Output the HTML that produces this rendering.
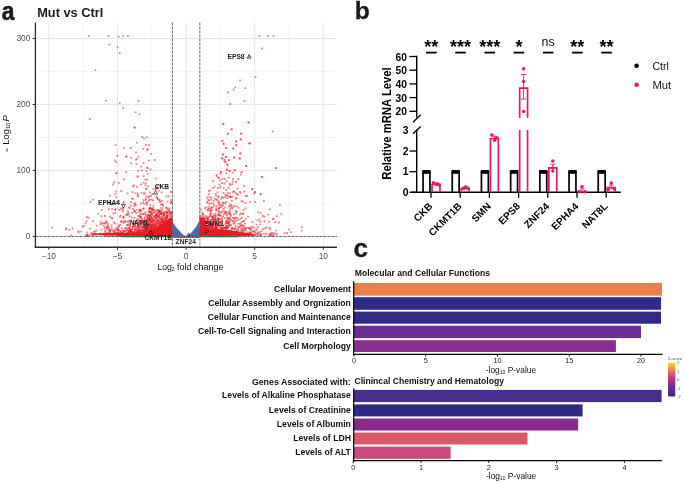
<!DOCTYPE html>
<html><head><meta charset="utf-8"><style>
html,body{margin:0;padding:0;background:#fff;}
svg{display:block;will-change:transform;}
text{font-family:"Liberation Sans",sans-serif;}
</style></head><body>
<svg width="685" height="483" viewBox="0 0 685 483" font-family="Liberation Sans, sans-serif">
<rect width="685" height="483" fill="#fff"/>
<line x1="83.20" y1="22.5" x2="83.20" y2="247.0" stroke="#ededed" stroke-width="0.6"/><line x1="151.80" y1="22.5" x2="151.80" y2="247.0" stroke="#ededed" stroke-width="0.6"/><line x1="220.40" y1="22.5" x2="220.40" y2="247.0" stroke="#ededed" stroke-width="0.6"/><line x1="289.00" y1="22.5" x2="289.00" y2="247.0" stroke="#ededed" stroke-width="0.6"/><line x1="35.4" y1="203.42" x2="337.0" y2="203.42" stroke="#ededed" stroke-width="0.6"/><line x1="35.4" y1="137.44" x2="337.0" y2="137.44" stroke="#ededed" stroke-width="0.6"/><line x1="35.4" y1="71.48" x2="337.0" y2="71.48" stroke="#ededed" stroke-width="0.6"/><line x1="48.90" y1="22.5" x2="48.90" y2="247.0" stroke="#e6e6e6" stroke-width="1"/><line x1="117.50" y1="22.5" x2="117.50" y2="247.0" stroke="#e6e6e6" stroke-width="1"/><line x1="186.10" y1="22.5" x2="186.10" y2="247.0" stroke="#e6e6e6" stroke-width="1"/><line x1="254.70" y1="22.5" x2="254.70" y2="247.0" stroke="#e6e6e6" stroke-width="1"/><line x1="323.30" y1="22.5" x2="323.30" y2="247.0" stroke="#e6e6e6" stroke-width="1"/><line x1="35.4" y1="236.40" x2="337.0" y2="236.40" stroke="#e6e6e6" stroke-width="1"/><line x1="35.4" y1="170.43" x2="337.0" y2="170.43" stroke="#e6e6e6" stroke-width="1"/><line x1="35.4" y1="104.46" x2="337.0" y2="104.46" stroke="#e6e6e6" stroke-width="1"/><line x1="35.4" y1="38.49" x2="337.0" y2="38.49" stroke="#e6e6e6" stroke-width="1"/><polygon points="91,233.2 100,233.2 110,233.1 120,232.9 130,232.5 140,231.8 148,230.5 155,228.5 160,225.5 165,221.5 169,219 172.4,218 172.4,235.8 120,235.4 100,235.0 91,234.6" fill="#ea1c24"/><polygon points="199.7,217.6 204.5,217.9 205.5,225.5 208,229 220,229.6 232,230.5 242,232 250,233.4 256,234.6 256,235.8 199.7,235.8" fill="#ea1c24"/><path d="M88.0 35.0h1.8v1.8h-1.8zM94.4 68.9h1.8v1.8h-1.8zM133.6 126.5h1.8v1.8h-1.8zM148.1 144.2h1.8v1.8h-1.8zM116.5 155.1h1.8v1.8h-1.8zM115.2 161.3h1.8v1.8h-1.8zM146.7 167.3h1.8v1.8h-1.8zM136.4 175.6h1.8v1.8h-1.8zM113.1 181.4h1.8v1.8h-1.8zM108.0 208.2h1.8v1.8h-1.8zM84.5 222.7h1.8v1.8h-1.8zM115.3 227.1h1.8v1.8h-1.8zM103.7 227.8h1.8v1.8h-1.8zM234.3 86.5h1.8v1.8h-1.8zM230.8 128.4h1.8v1.8h-1.8zM222.6 143.0h1.8v1.8h-1.8zM233.3 156.4h1.8v1.8h-1.8zM225.9 168.5h1.8v1.8h-1.8zM254.0 191.4h1.8v1.8h-1.8zM275.8 215.2h1.8v1.8h-1.8zM300.8 229.8h1.8v1.8h-1.8zM217.1 187.1h1.8v1.8h-1.8zM240.5 132.8h1.8v1.8h-1.8zM225.2 146.9h1.8v1.8h-1.8zM223.6 158.8h1.8v1.8h-1.8zM228.6 170.1h1.8v1.8h-1.8zM217.8 176.7h1.8v1.8h-1.8zM225.6 180.4h1.8v1.8h-1.8zM219.5 186.2h1.8v1.8h-1.8zM216.6 191.5h1.8v1.8h-1.8zM221.1 196.1h1.8v1.8h-1.8zM71.7 227.6h1.8v1.8h-1.8zM86.8 234.6h1.8v1.8h-1.8zM93.4 233.9h1.8v1.8h-1.8zM99.4 232.4h1.8v1.8h-1.8zM103.8 222.6h1.8v1.8h-1.8zM104.7 235.1h1.8v1.8h-1.8zM106.1 226.2h1.8v1.8h-1.8zM108.8 200.2h1.8v1.8h-1.8zM109.3 203.0h1.8v1.8h-1.8zM110.9 228.8h1.8v1.8h-1.8zM112.4 234.2h1.8v1.8h-1.8zM114.2 230.7h1.8v1.8h-1.8zM116.3 231.9h1.8v1.8h-1.8zM117.8 231.9h1.8v1.8h-1.8zM118.6 224.4h1.8v1.8h-1.8zM119.4 223.7h1.8v1.8h-1.8zM120.0 235.1h1.8v1.8h-1.8zM122.1 210.2h1.8v1.8h-1.8zM121.2 234.0h1.8v1.8h-1.8zM122.6 232.1h1.8v1.8h-1.8zM124.5 220.1h1.8v1.8h-1.8zM124.9 234.2h1.8v1.8h-1.8zM125.5 234.6h1.8v1.8h-1.8zM126.8 229.4h1.8v1.8h-1.8zM127.8 206.5h1.8v1.8h-1.8zM127.4 231.3h1.8v1.8h-1.8zM128.5 219.8h1.8v1.8h-1.8zM128.2 232.4h1.8v1.8h-1.8zM129.2 230.8h1.8v1.8h-1.8zM131.0 216.5h1.8v1.8h-1.8zM130.8 234.6h1.8v1.8h-1.8zM131.9 228.1h1.8v1.8h-1.8zM132.1 208.0h1.8v1.8h-1.8zM132.7 234.7h1.8v1.8h-1.8zM133.4 224.4h1.8v1.8h-1.8zM133.1 234.3h1.8v1.8h-1.8zM134.3 224.8h1.8v1.8h-1.8zM134.4 234.4h1.8v1.8h-1.8zM135.2 234.7h1.8v1.8h-1.8zM137.0 223.8h1.8v1.8h-1.8zM136.3 230.9h1.8v1.8h-1.8zM136.8 234.7h1.8v1.8h-1.8zM137.8 225.0h1.8v1.8h-1.8zM137.2 234.6h1.8v1.8h-1.8zM138.2 226.5h1.8v1.8h-1.8zM138.4 231.7h1.8v1.8h-1.8zM138.1 234.5h1.8v1.8h-1.8zM139.7 217.6h1.8v1.8h-1.8zM139.9 231.2h1.8v1.8h-1.8zM140.7 191.8h1.8v1.8h-1.8zM140.7 222.7h1.8v1.8h-1.8zM140.1 232.4h1.8v1.8h-1.8zM141.2 221.2h1.8v1.8h-1.8zM141.9 231.6h1.8v1.8h-1.8zM141.1 233.3h1.8v1.8h-1.8zM142.9 207.8h1.8v1.8h-1.8zM142.2 226.5h1.8v1.8h-1.8zM142.2 231.6h1.8v1.8h-1.8zM143.2 192.8h1.8v1.8h-1.8zM143.2 221.3h1.8v1.8h-1.8zM143.5 230.4h1.8v1.8h-1.8zM144.8 182.3h1.8v1.8h-1.8zM144.4 227.3h1.8v1.8h-1.8zM144.3 232.7h1.8v1.8h-1.8zM145.6 201.2h1.8v1.8h-1.8zM145.3 223.0h1.8v1.8h-1.8zM145.3 229.0h1.8v1.8h-1.8zM145.4 233.3h1.8v1.8h-1.8zM147.0 220.1h1.8v1.8h-1.8zM146.8 227.8h1.8v1.8h-1.8zM146.3 233.0h1.8v1.8h-1.8zM146.9 234.5h1.8v1.8h-1.8zM148.1 217.2h1.8v1.8h-1.8zM147.2 226.9h1.8v1.8h-1.8zM147.7 231.3h1.8v1.8h-1.8zM148.2 210.0h1.8v1.8h-1.8zM148.8 218.4h1.8v1.8h-1.8zM148.1 224.2h1.8v1.8h-1.8zM148.6 228.4h1.8v1.8h-1.8zM148.3 232.2h1.8v1.8h-1.8zM149.9 207.7h1.8v1.8h-1.8zM149.6 218.2h1.8v1.8h-1.8zM150.0 226.9h1.8v1.8h-1.8zM149.3 230.7h1.8v1.8h-1.8zM149.6 234.5h1.8v1.8h-1.8zM150.6 216.5h1.8v1.8h-1.8zM150.6 224.3h1.8v1.8h-1.8zM150.3 230.1h1.8v1.8h-1.8zM151.5 208.6h1.8v1.8h-1.8zM151.9 219.0h1.8v1.8h-1.8zM151.3 228.7h1.8v1.8h-1.8zM151.4 232.0h1.8v1.8h-1.8zM152.6 187.9h1.8v1.8h-1.8zM152.1 223.8h1.8v1.8h-1.8zM153.0 227.3h1.8v1.8h-1.8zM153.0 229.2h1.8v1.8h-1.8zM152.2 231.2h1.8v1.8h-1.8zM153.1 215.8h1.8v1.8h-1.8zM153.8 227.1h1.8v1.8h-1.8zM154.0 230.0h1.8v1.8h-1.8zM154.8 210.2h1.8v1.8h-1.8zM154.3 218.8h1.8v1.8h-1.8zM154.5 230.9h1.8v1.8h-1.8zM156.1 186.1h1.8v1.8h-1.8zM155.4 219.8h1.8v1.8h-1.8zM155.4 229.8h1.8v1.8h-1.8zM156.1 232.2h1.8v1.8h-1.8zM156.3 208.9h1.8v1.8h-1.8zM156.6 217.4h1.8v1.8h-1.8zM156.7 228.0h1.8v1.8h-1.8zM157.0 232.2h1.8v1.8h-1.8zM158.0 214.9h1.8v1.8h-1.8zM157.7 226.0h1.8v1.8h-1.8zM157.9 228.3h1.8v1.8h-1.8zM157.6 232.1h1.8v1.8h-1.8zM159.0 209.5h1.8v1.8h-1.8zM158.4 217.0h1.8v1.8h-1.8zM158.8 224.3h1.8v1.8h-1.8zM158.3 231.0h1.8v1.8h-1.8zM159.2 183.9h1.8v1.8h-1.8zM159.3 218.2h1.8v1.8h-1.8zM159.8 223.6h1.8v1.8h-1.8zM159.5 227.5h1.8v1.8h-1.8zM159.3 230.5h1.8v1.8h-1.8zM160.6 191.4h1.8v1.8h-1.8zM161.0 219.6h1.8v1.8h-1.8zM161.0 226.6h1.8v1.8h-1.8zM160.4 233.8h1.8v1.8h-1.8zM162.0 217.9h1.8v1.8h-1.8zM162.1 222.9h1.8v1.8h-1.8zM162.0 228.7h1.8v1.8h-1.8zM161.8 235.1h1.8v1.8h-1.8zM162.3 218.0h1.8v1.8h-1.8zM162.3 222.9h1.8v1.8h-1.8zM162.2 229.2h1.8v1.8h-1.8zM162.7 232.2h1.8v1.8h-1.8zM163.2 216.6h1.8v1.8h-1.8zM163.5 224.3h1.8v1.8h-1.8zM164.0 226.2h1.8v1.8h-1.8zM163.7 230.5h1.8v1.8h-1.8zM163.4 233.0h1.8v1.8h-1.8zM165.0 217.1h1.8v1.8h-1.8zM165.1 222.8h1.8v1.8h-1.8zM164.5 226.3h1.8v1.8h-1.8zM164.9 231.9h1.8v1.8h-1.8zM165.3 206.5h1.8v1.8h-1.8zM165.9 214.5h1.8v1.8h-1.8zM165.6 221.9h1.8v1.8h-1.8zM165.3 225.8h1.8v1.8h-1.8zM165.3 231.9h1.8v1.8h-1.8zM166.6 200.8h1.8v1.8h-1.8zM166.8 217.2h1.8v1.8h-1.8zM166.6 224.7h1.8v1.8h-1.8zM166.5 227.3h1.8v1.8h-1.8zM167.1 230.4h1.8v1.8h-1.8zM167.2 221.5h1.8v1.8h-1.8zM168.1 227.1h1.8v1.8h-1.8zM167.2 231.0h1.8v1.8h-1.8zM167.3 233.4h1.8v1.8h-1.8zM168.2 209.5h1.8v1.8h-1.8zM168.5 221.6h1.8v1.8h-1.8zM168.5 226.7h1.8v1.8h-1.8zM168.8 228.2h1.8v1.8h-1.8zM168.2 232.8h1.8v1.8h-1.8zM169.5 212.0h1.8v1.8h-1.8zM170.0 218.2h1.8v1.8h-1.8zM169.5 223.4h1.8v1.8h-1.8zM169.5 228.9h1.8v1.8h-1.8zM169.8 233.3h1.8v1.8h-1.8zM171.1 212.3h1.8v1.8h-1.8zM170.4 220.6h1.8v1.8h-1.8zM170.3 223.8h1.8v1.8h-1.8zM170.4 228.9h1.8v1.8h-1.8zM170.5 234.4h1.8v1.8h-1.8zM199.8 227.0h1.8v1.8h-1.8zM199.2 230.7h1.8v1.8h-1.8zM199.5 233.8h1.8v1.8h-1.8zM200.5 220.7h1.8v1.8h-1.8zM200.7 224.0h1.8v1.8h-1.8zM200.4 227.4h1.8v1.8h-1.8zM199.9 230.4h1.8v1.8h-1.8zM200.4 234.0h1.8v1.8h-1.8zM201.5 218.6h1.8v1.8h-1.8zM201.4 223.9h1.8v1.8h-1.8zM201.7 232.6h1.8v1.8h-1.8zM201.3 234.7h1.8v1.8h-1.8zM202.6 223.4h1.8v1.8h-1.8zM201.9 229.9h1.8v1.8h-1.8zM202.6 234.0h1.8v1.8h-1.8zM202.9 226.9h1.8v1.8h-1.8zM203.2 230.5h1.8v1.8h-1.8zM203.5 233.7h1.8v1.8h-1.8zM204.0 219.4h1.8v1.8h-1.8zM204.7 224.8h1.8v1.8h-1.8zM204.6 231.4h1.8v1.8h-1.8zM204.9 218.9h1.8v1.8h-1.8zM205.2 228.2h1.8v1.8h-1.8zM205.1 233.8h1.8v1.8h-1.8zM206.4 217.6h1.8v1.8h-1.8zM206.2 226.9h1.8v1.8h-1.8zM206.6 230.9h1.8v1.8h-1.8zM205.9 234.4h1.8v1.8h-1.8zM207.0 219.5h1.8v1.8h-1.8zM206.9 227.0h1.8v1.8h-1.8zM208.4 196.2h1.8v1.8h-1.8zM208.2 223.1h1.8v1.8h-1.8zM207.9 228.4h1.8v1.8h-1.8zM209.0 189.8h1.8v1.8h-1.8zM209.0 223.0h1.8v1.8h-1.8zM208.8 227.4h1.8v1.8h-1.8zM209.2 232.8h1.8v1.8h-1.8zM209.9 209.4h1.8v1.8h-1.8zM210.1 224.9h1.8v1.8h-1.8zM210.4 234.6h1.8v1.8h-1.8zM211.0 223.2h1.8v1.8h-1.8zM211.3 228.4h1.8v1.8h-1.8zM211.3 233.7h1.8v1.8h-1.8zM212.5 217.0h1.8v1.8h-1.8zM212.6 227.7h1.8v1.8h-1.8zM212.8 233.5h1.8v1.8h-1.8zM212.9 223.1h1.8v1.8h-1.8zM213.0 233.9h1.8v1.8h-1.8zM214.5 219.2h1.8v1.8h-1.8zM214.1 229.8h1.8v1.8h-1.8zM214.4 233.5h1.8v1.8h-1.8zM215.2 198.5h1.8v1.8h-1.8zM215.7 222.8h1.8v1.8h-1.8zM215.3 226.9h1.8v1.8h-1.8zM215.3 231.6h1.8v1.8h-1.8zM216.7 218.7h1.8v1.8h-1.8zM216.0 231.3h1.8v1.8h-1.8zM217.2 196.8h1.8v1.8h-1.8zM216.9 218.4h1.8v1.8h-1.8zM217.2 229.1h1.8v1.8h-1.8zM218.2 207.5h1.8v1.8h-1.8zM218.6 221.2h1.8v1.8h-1.8zM218.1 233.1h1.8v1.8h-1.8zM219.4 218.3h1.8v1.8h-1.8zM219.7 230.7h1.8v1.8h-1.8zM220.4 206.1h1.8v1.8h-1.8zM220.8 229.3h1.8v1.8h-1.8zM220.9 215.2h1.8v1.8h-1.8zM220.9 228.8h1.8v1.8h-1.8zM222.2 215.8h1.8v1.8h-1.8zM221.9 235.0h1.8v1.8h-1.8zM223.6 230.9h1.8v1.8h-1.8zM224.4 211.3h1.8v1.8h-1.8zM224.4 234.6h1.8v1.8h-1.8zM225.4 225.1h1.8v1.8h-1.8zM224.8 229.8h1.8v1.8h-1.8zM226.4 197.3h1.8v1.8h-1.8zM226.0 225.9h1.8v1.8h-1.8zM225.8 234.8h1.8v1.8h-1.8zM227.5 222.9h1.8v1.8h-1.8zM227.3 232.2h1.8v1.8h-1.8zM228.1 230.3h1.8v1.8h-1.8zM229.2 207.4h1.8v1.8h-1.8zM229.3 230.2h1.8v1.8h-1.8zM230.7 204.4h1.8v1.8h-1.8zM229.8 231.4h1.8v1.8h-1.8zM231.0 227.7h1.8v1.8h-1.8zM232.6 230.7h1.8v1.8h-1.8zM233.7 217.6h1.8v1.8h-1.8zM234.8 225.1h1.8v1.8h-1.8zM235.3 211.3h1.8v1.8h-1.8zM236.3 192.7h1.8v1.8h-1.8zM236.2 234.3h1.8v1.8h-1.8zM236.9 232.2h1.8v1.8h-1.8zM237.9 234.0h1.8v1.8h-1.8zM239.6 232.9h1.8v1.8h-1.8zM240.4 233.3h1.8v1.8h-1.8zM241.0 234.4h1.8v1.8h-1.8zM241.9 228.0h1.8v1.8h-1.8zM243.8 234.1h1.8v1.8h-1.8zM244.9 218.0h1.8v1.8h-1.8zM247.7 227.1h1.8v1.8h-1.8zM249.2 227.4h1.8v1.8h-1.8zM251.1 230.7h1.8v1.8h-1.8zM255.8 223.8h1.8v1.8h-1.8zM256.8 231.8h1.8v1.8h-1.8zM259.1 234.6h1.8v1.8h-1.8zM265.7 226.6h1.8v1.8h-1.8zM270.3 232.2h1.8v1.8h-1.8zM275.4 229.7h1.8v1.8h-1.8z" fill="#ea1c24" fill-opacity="0.55"/><path d="M107.6 35.0h1.8v1.8h-1.8zM105.1 99.7h1.8v1.8h-1.8zM133.9 126.8h1.8v1.8h-1.8zM123.0 147.3h1.8v1.8h-1.8zM125.2 155.9h1.8v1.8h-1.8zM148.2 159.7h1.8v1.8h-1.8zM149.4 168.5h1.8v1.8h-1.8zM137.2 175.7h1.8v1.8h-1.8zM111.9 183.6h1.8v1.8h-1.8zM114.8 208.2h1.8v1.8h-1.8zM81.9 225.6h1.8v1.8h-1.8zM51.2 226.8h1.8v1.8h-1.8zM108.0 228.5h1.8v1.8h-1.8zM232.6 88.7h1.8v1.8h-1.8zM271.7 130.5h1.8v1.8h-1.8zM235.1 144.2h1.8v1.8h-1.8zM238.8 157.4h1.8v1.8h-1.8zM228.8 170.0h1.8v1.8h-1.8zM259.8 193.5h1.8v1.8h-1.8zM272.3 218.1h1.8v1.8h-1.8zM215.6 174.1h1.8v1.8h-1.8zM225.1 189.1h1.8v1.8h-1.8zM271.9 130.4h1.8v1.8h-1.8zM232.2 147.7h1.8v1.8h-1.8zM228.2 159.3h1.8v1.8h-1.8zM220.3 171.3h1.8v1.8h-1.8zM221.6 177.9h1.8v1.8h-1.8zM231.9 180.7h1.8v1.8h-1.8zM222.8 187.3h1.8v1.8h-1.8zM222.8 191.9h1.8v1.8h-1.8zM227.7 195.3h1.8v1.8h-1.8zM77.6 231.5h1.8v1.8h-1.8zM88.8 234.5h1.8v1.8h-1.8zM94.4 232.6h1.8v1.8h-1.8zM100.8 208.9h1.8v1.8h-1.8zM103.2 232.9h1.8v1.8h-1.8zM105.3 220.8h1.8v1.8h-1.8zM106.4 226.9h1.8v1.8h-1.8zM108.8 202.5h1.8v1.8h-1.8zM109.4 229.4h1.8v1.8h-1.8zM110.9 234.9h1.8v1.8h-1.8zM113.1 221.6h1.8v1.8h-1.8zM114.4 232.0h1.8v1.8h-1.8zM116.6 232.6h1.8v1.8h-1.8zM117.8 233.0h1.8v1.8h-1.8zM118.3 229.3h1.8v1.8h-1.8zM119.8 230.2h1.8v1.8h-1.8zM120.2 221.2h1.8v1.8h-1.8zM121.9 220.7h1.8v1.8h-1.8zM123.0 200.9h1.8v1.8h-1.8zM122.2 233.3h1.8v1.8h-1.8zM124.6 220.6h1.8v1.8h-1.8zM124.4 234.8h1.8v1.8h-1.8zM126.7 192.5h1.8v1.8h-1.8zM126.5 229.3h1.8v1.8h-1.8zM128.0 212.6h1.8v1.8h-1.8zM127.4 233.0h1.8v1.8h-1.8zM128.9 222.8h1.8v1.8h-1.8zM130.1 201.1h1.8v1.8h-1.8zM129.2 231.0h1.8v1.8h-1.8zM130.2 219.7h1.8v1.8h-1.8zM132.0 185.4h1.8v1.8h-1.8zM131.1 231.0h1.8v1.8h-1.8zM132.9 209.7h1.8v1.8h-1.8zM132.2 234.9h1.8v1.8h-1.8zM134.0 225.1h1.8v1.8h-1.8zM133.7 234.9h1.8v1.8h-1.8zM134.7 225.7h1.8v1.8h-1.8zM136.0 186.0h1.8v1.8h-1.8zM135.7 234.7h1.8v1.8h-1.8zM136.9 224.6h1.8v1.8h-1.8zM136.3 231.8h1.8v1.8h-1.8zM136.6 235.0h1.8v1.8h-1.8zM137.7 229.5h1.8v1.8h-1.8zM138.0 235.0h1.8v1.8h-1.8zM138.4 227.1h1.8v1.8h-1.8zM138.8 231.5h1.8v1.8h-1.8zM138.7 234.4h1.8v1.8h-1.8zM139.4 221.6h1.8v1.8h-1.8zM139.2 232.8h1.8v1.8h-1.8zM140.6 210.5h1.8v1.8h-1.8zM140.9 223.0h1.8v1.8h-1.8zM140.9 232.7h1.8v1.8h-1.8zM141.1 225.2h1.8v1.8h-1.8zM141.7 233.2h1.8v1.8h-1.8zM141.9 234.5h1.8v1.8h-1.8zM142.2 207.7h1.8v1.8h-1.8zM142.7 226.1h1.8v1.8h-1.8zM143.0 231.9h1.8v1.8h-1.8zM143.3 203.0h1.8v1.8h-1.8zM143.5 221.5h1.8v1.8h-1.8zM143.3 232.9h1.8v1.8h-1.8zM144.6 184.2h1.8v1.8h-1.8zM144.4 228.4h1.8v1.8h-1.8zM144.7 232.5h1.8v1.8h-1.8zM145.6 202.4h1.8v1.8h-1.8zM146.1 222.9h1.8v1.8h-1.8zM145.3 231.0h1.8v1.8h-1.8zM146.4 201.8h1.8v1.8h-1.8zM146.3 221.5h1.8v1.8h-1.8zM146.6 228.3h1.8v1.8h-1.8zM146.5 232.6h1.8v1.8h-1.8zM147.4 185.3h1.8v1.8h-1.8zM147.9 217.4h1.8v1.8h-1.8zM147.3 227.9h1.8v1.8h-1.8zM147.7 232.5h1.8v1.8h-1.8zM148.8 211.0h1.8v1.8h-1.8zM148.4 219.3h1.8v1.8h-1.8zM148.4 225.0h1.8v1.8h-1.8zM148.3 230.1h1.8v1.8h-1.8zM148.3 232.5h1.8v1.8h-1.8zM149.5 207.6h1.8v1.8h-1.8zM149.8 219.3h1.8v1.8h-1.8zM150.0 226.8h1.8v1.8h-1.8zM149.7 231.0h1.8v1.8h-1.8zM149.7 234.4h1.8v1.8h-1.8zM150.4 218.0h1.8v1.8h-1.8zM150.4 225.1h1.8v1.8h-1.8zM151.0 230.6h1.8v1.8h-1.8zM152.1 208.4h1.8v1.8h-1.8zM151.1 220.4h1.8v1.8h-1.8zM151.6 229.8h1.8v1.8h-1.8zM151.3 231.3h1.8v1.8h-1.8zM152.1 199.5h1.8v1.8h-1.8zM152.5 223.7h1.8v1.8h-1.8zM152.5 227.3h1.8v1.8h-1.8zM153.1 229.1h1.8v1.8h-1.8zM152.8 232.7h1.8v1.8h-1.8zM153.3 219.1h1.8v1.8h-1.8zM153.6 227.9h1.8v1.8h-1.8zM153.8 229.4h1.8v1.8h-1.8zM154.9 213.1h1.8v1.8h-1.8zM154.7 220.9h1.8v1.8h-1.8zM154.6 230.7h1.8v1.8h-1.8zM155.5 187.6h1.8v1.8h-1.8zM155.7 223.1h1.8v1.8h-1.8zM156.1 230.1h1.8v1.8h-1.8zM155.9 232.3h1.8v1.8h-1.8zM156.6 210.6h1.8v1.8h-1.8zM156.2 218.7h1.8v1.8h-1.8zM156.6 227.9h1.8v1.8h-1.8zM156.2 234.1h1.8v1.8h-1.8zM158.0 215.5h1.8v1.8h-1.8zM157.4 225.8h1.8v1.8h-1.8zM157.2 229.7h1.8v1.8h-1.8zM158.0 232.2h1.8v1.8h-1.8zM158.2 210.8h1.8v1.8h-1.8zM158.8 220.3h1.8v1.8h-1.8zM159.0 224.5h1.8v1.8h-1.8zM159.0 232.8h1.8v1.8h-1.8zM160.0 203.8h1.8v1.8h-1.8zM159.2 218.5h1.8v1.8h-1.8zM159.3 224.9h1.8v1.8h-1.8zM159.2 228.5h1.8v1.8h-1.8zM159.2 230.9h1.8v1.8h-1.8zM161.1 200.3h1.8v1.8h-1.8zM160.4 220.6h1.8v1.8h-1.8zM160.5 227.8h1.8v1.8h-1.8zM162.0 203.7h1.8v1.8h-1.8zM161.1 217.2h1.8v1.8h-1.8zM161.1 224.0h1.8v1.8h-1.8zM161.6 229.1h1.8v1.8h-1.8zM162.3 205.4h1.8v1.8h-1.8zM162.8 218.1h1.8v1.8h-1.8zM162.5 224.8h1.8v1.8h-1.8zM162.5 230.6h1.8v1.8h-1.8zM162.3 233.4h1.8v1.8h-1.8zM164.1 219.6h1.8v1.8h-1.8zM163.3 225.5h1.8v1.8h-1.8zM163.2 228.1h1.8v1.8h-1.8zM164.0 232.0h1.8v1.8h-1.8zM163.2 233.4h1.8v1.8h-1.8zM164.1 218.2h1.8v1.8h-1.8zM164.2 223.3h1.8v1.8h-1.8zM164.4 227.8h1.8v1.8h-1.8zM164.6 233.3h1.8v1.8h-1.8zM165.5 207.1h1.8v1.8h-1.8zM165.7 215.5h1.8v1.8h-1.8zM165.3 222.4h1.8v1.8h-1.8zM165.6 226.6h1.8v1.8h-1.8zM165.8 231.3h1.8v1.8h-1.8zM166.7 208.1h1.8v1.8h-1.8zM166.4 219.8h1.8v1.8h-1.8zM166.7 226.0h1.8v1.8h-1.8zM166.6 228.6h1.8v1.8h-1.8zM166.1 231.4h1.8v1.8h-1.8zM167.5 225.1h1.8v1.8h-1.8zM167.4 227.5h1.8v1.8h-1.8zM167.8 231.5h1.8v1.8h-1.8zM167.7 233.2h1.8v1.8h-1.8zM168.7 210.5h1.8v1.8h-1.8zM168.3 223.7h1.8v1.8h-1.8zM169.0 227.2h1.8v1.8h-1.8zM168.1 230.0h1.8v1.8h-1.8zM168.8 232.8h1.8v1.8h-1.8zM169.6 212.1h1.8v1.8h-1.8zM170.0 218.2h1.8v1.8h-1.8zM169.5 224.6h1.8v1.8h-1.8zM169.7 228.8h1.8v1.8h-1.8zM169.2 234.0h1.8v1.8h-1.8zM170.5 212.6h1.8v1.8h-1.8zM170.5 220.4h1.8v1.8h-1.8zM170.3 224.9h1.8v1.8h-1.8zM170.3 229.4h1.8v1.8h-1.8zM199.7 214.6h1.8v1.8h-1.8zM199.0 228.0h1.8v1.8h-1.8zM199.6 230.2h1.8v1.8h-1.8zM199.5 233.2h1.8v1.8h-1.8zM199.9 221.0h1.8v1.8h-1.8zM200.6 224.9h1.8v1.8h-1.8zM200.7 227.4h1.8v1.8h-1.8zM200.0 231.5h1.8v1.8h-1.8zM200.3 233.7h1.8v1.8h-1.8zM201.8 218.9h1.8v1.8h-1.8zM201.4 223.4h1.8v1.8h-1.8zM201.7 232.2h1.8v1.8h-1.8zM201.2 235.0h1.8v1.8h-1.8zM202.3 225.4h1.8v1.8h-1.8zM201.9 230.9h1.8v1.8h-1.8zM203.6 217.0h1.8v1.8h-1.8zM203.1 227.7h1.8v1.8h-1.8zM203.4 230.7h1.8v1.8h-1.8zM203.5 233.5h1.8v1.8h-1.8zM204.5 220.9h1.8v1.8h-1.8zM204.6 226.9h1.8v1.8h-1.8zM204.7 232.2h1.8v1.8h-1.8zM205.1 220.6h1.8v1.8h-1.8zM204.9 229.0h1.8v1.8h-1.8zM204.9 234.7h1.8v1.8h-1.8zM206.4 217.6h1.8v1.8h-1.8zM206.2 227.7h1.8v1.8h-1.8zM205.8 231.6h1.8v1.8h-1.8zM205.9 235.0h1.8v1.8h-1.8zM206.9 219.5h1.8v1.8h-1.8zM207.1 228.2h1.8v1.8h-1.8zM208.6 199.6h1.8v1.8h-1.8zM208.7 223.0h1.8v1.8h-1.8zM208.2 230.5h1.8v1.8h-1.8zM209.3 207.5h1.8v1.8h-1.8zM209.4 223.2h1.8v1.8h-1.8zM209.3 228.2h1.8v1.8h-1.8zM209.2 233.3h1.8v1.8h-1.8zM210.3 212.2h1.8v1.8h-1.8zM209.9 225.2h1.8v1.8h-1.8zM211.6 206.8h1.8v1.8h-1.8zM211.1 225.0h1.8v1.8h-1.8zM211.8 229.0h1.8v1.8h-1.8zM210.8 234.7h1.8v1.8h-1.8zM212.2 218.4h1.8v1.8h-1.8zM212.8 228.4h1.8v1.8h-1.8zM212.6 235.0h1.8v1.8h-1.8zM213.2 228.1h1.8v1.8h-1.8zM213.8 235.0h1.8v1.8h-1.8zM214.8 222.5h1.8v1.8h-1.8zM214.1 231.1h1.8v1.8h-1.8zM214.7 233.3h1.8v1.8h-1.8zM215.4 207.6h1.8v1.8h-1.8zM215.5 223.8h1.8v1.8h-1.8zM214.8 227.8h1.8v1.8h-1.8zM215.3 232.9h1.8v1.8h-1.8zM216.2 220.8h1.8v1.8h-1.8zM216.6 232.0h1.8v1.8h-1.8zM217.5 199.7h1.8v1.8h-1.8zM217.2 219.0h1.8v1.8h-1.8zM217.8 232.5h1.8v1.8h-1.8zM217.9 208.5h1.8v1.8h-1.8zM217.9 224.8h1.8v1.8h-1.8zM218.2 234.8h1.8v1.8h-1.8zM219.7 222.2h1.8v1.8h-1.8zM219.0 230.2h1.8v1.8h-1.8zM220.7 211.4h1.8v1.8h-1.8zM219.8 230.1h1.8v1.8h-1.8zM221.1 217.5h1.8v1.8h-1.8zM221.6 232.7h1.8v1.8h-1.8zM222.3 224.0h1.8v1.8h-1.8zM222.9 202.0h1.8v1.8h-1.8zM223.0 231.9h1.8v1.8h-1.8zM224.7 213.2h1.8v1.8h-1.8zM225.3 193.8h1.8v1.8h-1.8zM225.3 225.3h1.8v1.8h-1.8zM225.8 230.3h1.8v1.8h-1.8zM226.6 212.3h1.8v1.8h-1.8zM226.8 227.3h1.8v1.8h-1.8zM227.8 211.6h1.8v1.8h-1.8zM227.0 224.3h1.8v1.8h-1.8zM227.6 234.0h1.8v1.8h-1.8zM228.4 232.6h1.8v1.8h-1.8zM229.1 209.7h1.8v1.8h-1.8zM229.3 233.5h1.8v1.8h-1.8zM230.8 206.0h1.8v1.8h-1.8zM230.1 232.3h1.8v1.8h-1.8zM231.3 227.3h1.8v1.8h-1.8zM232.6 230.8h1.8v1.8h-1.8zM232.9 219.7h1.8v1.8h-1.8zM234.0 227.2h1.8v1.8h-1.8zM235.5 212.4h1.8v1.8h-1.8zM236.4 193.5h1.8v1.8h-1.8zM237.0 193.7h1.8v1.8h-1.8zM237.5 233.0h1.8v1.8h-1.8zM238.0 234.1h1.8v1.8h-1.8zM239.3 233.4h1.8v1.8h-1.8zM240.8 216.7h1.8v1.8h-1.8zM241.6 234.1h1.8v1.8h-1.8zM242.3 229.7h1.8v1.8h-1.8zM244.5 201.9h1.8v1.8h-1.8zM245.2 227.2h1.8v1.8h-1.8zM247.5 227.2h1.8v1.8h-1.8zM249.0 231.3h1.8v1.8h-1.8zM252.7 192.4h1.8v1.8h-1.8zM254.9 229.4h1.8v1.8h-1.8zM257.1 233.7h1.8v1.8h-1.8zM259.7 234.6h1.8v1.8h-1.8zM265.4 233.0h1.8v1.8h-1.8zM270.4 234.1h1.8v1.8h-1.8zM275.9 233.1h1.8v1.8h-1.8z" fill="#ea1c24" fill-opacity="0.55"/><path d="M117.8 35.7h1.8v1.8h-1.8zM118.8 101.9h1.8v1.8h-1.8zM141.3 136.1h1.8v1.8h-1.8zM129.9 147.1h1.8v1.8h-1.8zM125.8 155.5h1.8v1.8h-1.8zM153.8 159.1h1.8v1.8h-1.8zM115.2 172.5h1.8v1.8h-1.8zM142.8 175.2h1.8v1.8h-1.8zM117.9 181.9h1.8v1.8h-1.8zM114.5 211.9h1.8v1.8h-1.8zM82.7 225.3h1.8v1.8h-1.8zM65.0 228.5h1.8v1.8h-1.8zM258.5 35.0h1.8v1.8h-1.8zM244.5 87.2h1.8v1.8h-1.8zM226.9 132.8h1.8v1.8h-1.8zM225.1 146.9h1.8v1.8h-1.8zM223.4 159.6h1.8v1.8h-1.8zM233.8 169.5h1.8v1.8h-1.8zM263.0 200.1h1.8v1.8h-1.8zM274.4 221.1h1.8v1.8h-1.8zM218.1 177.1h1.8v1.8h-1.8zM239.1 191.1h1.8v1.8h-1.8zM221.6 140.3h1.8v1.8h-1.8zM221.9 153.5h1.8v1.8h-1.8zM224.4 161.3h1.8v1.8h-1.8zM240.5 171.4h1.8v1.8h-1.8zM223.9 177.9h1.8v1.8h-1.8zM218.6 183.7h1.8v1.8h-1.8zM227.7 187.0h1.8v1.8h-1.8zM226.9 191.9h1.8v1.8h-1.8zM229.4 195.8h1.8v1.8h-1.8zM86.0 216.2h1.8v1.8h-1.8zM90.3 232.2h1.8v1.8h-1.8zM94.6 233.8h1.8v1.8h-1.8zM100.4 215.2h1.8v1.8h-1.8zM103.4 234.1h1.8v1.8h-1.8zM105.5 220.6h1.8v1.8h-1.8zM106.7 226.4h1.8v1.8h-1.8zM108.2 226.8h1.8v1.8h-1.8zM109.2 231.1h1.8v1.8h-1.8zM111.3 207.9h1.8v1.8h-1.8zM113.5 228.7h1.8v1.8h-1.8zM115.4 196.3h1.8v1.8h-1.8zM116.9 234.5h1.8v1.8h-1.8zM117.5 234.1h1.8v1.8h-1.8zM118.9 232.7h1.8v1.8h-1.8zM119.9 232.1h1.8v1.8h-1.8zM121.0 227.4h1.8v1.8h-1.8zM121.7 232.6h1.8v1.8h-1.8zM123.0 215.6h1.8v1.8h-1.8zM123.9 227.3h1.8v1.8h-1.8zM124.8 227.0h1.8v1.8h-1.8zM125.5 214.1h1.8v1.8h-1.8zM127.0 210.6h1.8v1.8h-1.8zM126.8 232.0h1.8v1.8h-1.8zM127.6 220.7h1.8v1.8h-1.8zM127.2 232.9h1.8v1.8h-1.8zM129.0 224.8h1.8v1.8h-1.8zM130.0 204.5h1.8v1.8h-1.8zM129.9 231.0h1.8v1.8h-1.8zM130.9 228.9h1.8v1.8h-1.8zM131.6 191.3h1.8v1.8h-1.8zM132.1 231.0h1.8v1.8h-1.8zM132.7 222.3h1.8v1.8h-1.8zM133.5 202.5h1.8v1.8h-1.8zM133.4 225.6h1.8v1.8h-1.8zM134.6 192.3h1.8v1.8h-1.8zM134.9 229.0h1.8v1.8h-1.8zM135.6 208.9h1.8v1.8h-1.8zM135.1 234.7h1.8v1.8h-1.8zM136.4 224.8h1.8v1.8h-1.8zM137.0 231.8h1.8v1.8h-1.8zM136.2 234.7h1.8v1.8h-1.8zM137.6 229.4h1.8v1.8h-1.8zM138.3 209.0h1.8v1.8h-1.8zM138.3 228.9h1.8v1.8h-1.8zM138.5 232.2h1.8v1.8h-1.8zM140.0 202.6h1.8v1.8h-1.8zM139.4 223.4h1.8v1.8h-1.8zM139.7 234.0h1.8v1.8h-1.8zM140.3 213.2h1.8v1.8h-1.8zM140.2 222.3h1.8v1.8h-1.8zM140.5 234.5h1.8v1.8h-1.8zM142.0 226.5h1.8v1.8h-1.8zM141.7 233.2h1.8v1.8h-1.8zM141.9 234.7h1.8v1.8h-1.8zM142.3 213.1h1.8v1.8h-1.8zM142.6 228.3h1.8v1.8h-1.8zM142.5 233.4h1.8v1.8h-1.8zM143.8 213.1h1.8v1.8h-1.8zM143.9 225.1h1.8v1.8h-1.8zM143.4 232.2h1.8v1.8h-1.8zM144.4 199.2h1.8v1.8h-1.8zM144.7 229.7h1.8v1.8h-1.8zM144.3 233.7h1.8v1.8h-1.8zM145.8 203.9h1.8v1.8h-1.8zM145.7 224.8h1.8v1.8h-1.8zM146.0 230.5h1.8v1.8h-1.8zM146.4 213.6h1.8v1.8h-1.8zM146.3 222.9h1.8v1.8h-1.8zM146.2 230.0h1.8v1.8h-1.8zM146.7 233.4h1.8v1.8h-1.8zM147.5 196.1h1.8v1.8h-1.8zM147.6 218.1h1.8v1.8h-1.8zM147.2 230.0h1.8v1.8h-1.8zM149.0 191.5h1.8v1.8h-1.8zM149.0 211.2h1.8v1.8h-1.8zM148.7 219.4h1.8v1.8h-1.8zM148.3 225.2h1.8v1.8h-1.8zM149.1 229.9h1.8v1.8h-1.8zM148.3 232.5h1.8v1.8h-1.8zM149.7 210.5h1.8v1.8h-1.8zM149.6 221.2h1.8v1.8h-1.8zM150.0 227.1h1.8v1.8h-1.8zM150.0 230.8h1.8v1.8h-1.8zM149.1 234.2h1.8v1.8h-1.8zM150.3 218.5h1.8v1.8h-1.8zM150.9 226.5h1.8v1.8h-1.8zM150.5 233.5h1.8v1.8h-1.8zM151.5 209.3h1.8v1.8h-1.8zM151.9 220.5h1.8v1.8h-1.8zM151.8 230.2h1.8v1.8h-1.8zM151.9 232.9h1.8v1.8h-1.8zM152.6 204.8h1.8v1.8h-1.8zM152.7 223.9h1.8v1.8h-1.8zM152.8 227.2h1.8v1.8h-1.8zM152.9 229.6h1.8v1.8h-1.8zM152.7 234.5h1.8v1.8h-1.8zM153.2 219.9h1.8v1.8h-1.8zM153.4 227.3h1.8v1.8h-1.8zM153.5 230.5h1.8v1.8h-1.8zM155.1 213.8h1.8v1.8h-1.8zM154.6 223.1h1.8v1.8h-1.8zM154.1 230.1h1.8v1.8h-1.8zM155.7 195.6h1.8v1.8h-1.8zM155.6 223.9h1.8v1.8h-1.8zM155.4 230.3h1.8v1.8h-1.8zM156.1 232.9h1.8v1.8h-1.8zM156.6 213.0h1.8v1.8h-1.8zM156.7 219.9h1.8v1.8h-1.8zM156.7 229.6h1.8v1.8h-1.8zM156.5 233.7h1.8v1.8h-1.8zM157.5 218.9h1.8v1.8h-1.8zM157.5 226.9h1.8v1.8h-1.8zM157.2 229.8h1.8v1.8h-1.8zM157.6 234.1h1.8v1.8h-1.8zM158.7 210.9h1.8v1.8h-1.8zM158.4 222.3h1.8v1.8h-1.8zM159.0 224.6h1.8v1.8h-1.8zM158.5 233.2h1.8v1.8h-1.8zM159.6 209.9h1.8v1.8h-1.8zM159.8 221.0h1.8v1.8h-1.8zM159.9 225.0h1.8v1.8h-1.8zM159.9 228.6h1.8v1.8h-1.8zM159.8 231.2h1.8v1.8h-1.8zM160.4 207.1h1.8v1.8h-1.8zM161.0 221.3h1.8v1.8h-1.8zM161.0 227.9h1.8v1.8h-1.8zM161.1 203.2h1.8v1.8h-1.8zM161.4 218.2h1.8v1.8h-1.8zM161.6 224.6h1.8v1.8h-1.8zM162.1 230.6h1.8v1.8h-1.8zM163.1 210.9h1.8v1.8h-1.8zM162.4 219.1h1.8v1.8h-1.8zM162.8 224.3h1.8v1.8h-1.8zM162.7 230.1h1.8v1.8h-1.8zM162.5 233.4h1.8v1.8h-1.8zM163.3 221.4h1.8v1.8h-1.8zM163.6 226.0h1.8v1.8h-1.8zM163.2 229.1h1.8v1.8h-1.8zM163.5 231.3h1.8v1.8h-1.8zM163.7 233.8h1.8v1.8h-1.8zM164.6 219.4h1.8v1.8h-1.8zM164.7 223.5h1.8v1.8h-1.8zM164.4 227.4h1.8v1.8h-1.8zM164.9 233.2h1.8v1.8h-1.8zM165.7 210.3h1.8v1.8h-1.8zM165.3 216.8h1.8v1.8h-1.8zM165.9 222.3h1.8v1.8h-1.8zM165.9 227.9h1.8v1.8h-1.8zM165.2 231.8h1.8v1.8h-1.8zM166.7 210.6h1.8v1.8h-1.8zM166.6 220.7h1.8v1.8h-1.8zM166.8 225.8h1.8v1.8h-1.8zM166.4 229.9h1.8v1.8h-1.8zM166.7 233.3h1.8v1.8h-1.8zM167.5 226.1h1.8v1.8h-1.8zM167.5 228.2h1.8v1.8h-1.8zM167.7 231.1h1.8v1.8h-1.8zM167.4 233.7h1.8v1.8h-1.8zM168.6 210.3h1.8v1.8h-1.8zM168.8 223.3h1.8v1.8h-1.8zM168.6 227.7h1.8v1.8h-1.8zM168.4 229.3h1.8v1.8h-1.8zM168.3 232.7h1.8v1.8h-1.8zM169.6 214.1h1.8v1.8h-1.8zM169.6 219.8h1.8v1.8h-1.8zM169.8 224.1h1.8v1.8h-1.8zM169.5 229.7h1.8v1.8h-1.8zM169.1 234.8h1.8v1.8h-1.8zM170.2 215.2h1.8v1.8h-1.8zM170.5 221.0h1.8v1.8h-1.8zM171.0 224.4h1.8v1.8h-1.8zM170.3 229.5h1.8v1.8h-1.8zM199.2 217.0h1.8v1.8h-1.8zM199.4 228.8h1.8v1.8h-1.8zM199.8 232.1h1.8v1.8h-1.8zM198.9 233.6h1.8v1.8h-1.8zM200.2 220.4h1.8v1.8h-1.8zM200.7 224.9h1.8v1.8h-1.8zM200.6 227.4h1.8v1.8h-1.8zM200.4 232.4h1.8v1.8h-1.8zM200.8 234.8h1.8v1.8h-1.8zM201.8 218.4h1.8v1.8h-1.8zM201.0 227.3h1.8v1.8h-1.8zM201.5 232.4h1.8v1.8h-1.8zM202.0 213.5h1.8v1.8h-1.8zM202.4 225.6h1.8v1.8h-1.8zM202.7 231.7h1.8v1.8h-1.8zM203.7 221.5h1.8v1.8h-1.8zM203.5 228.1h1.8v1.8h-1.8zM202.9 230.2h1.8v1.8h-1.8zM203.7 234.8h1.8v1.8h-1.8zM204.5 221.8h1.8v1.8h-1.8zM204.2 226.6h1.8v1.8h-1.8zM204.6 233.9h1.8v1.8h-1.8zM205.0 221.4h1.8v1.8h-1.8zM205.4 228.8h1.8v1.8h-1.8zM205.3 235.1h1.8v1.8h-1.8zM206.4 221.7h1.8v1.8h-1.8zM205.8 227.7h1.8v1.8h-1.8zM206.3 232.0h1.8v1.8h-1.8zM207.2 199.1h1.8v1.8h-1.8zM207.7 221.6h1.8v1.8h-1.8zM207.1 229.5h1.8v1.8h-1.8zM208.6 203.1h1.8v1.8h-1.8zM208.7 225.9h1.8v1.8h-1.8zM208.5 230.5h1.8v1.8h-1.8zM209.5 209.7h1.8v1.8h-1.8zM209.3 223.4h1.8v1.8h-1.8zM209.1 228.4h1.8v1.8h-1.8zM209.4 234.7h1.8v1.8h-1.8zM210.0 215.6h1.8v1.8h-1.8zM210.8 228.4h1.8v1.8h-1.8zM211.3 206.3h1.8v1.8h-1.8zM211.0 225.9h1.8v1.8h-1.8zM211.1 229.1h1.8v1.8h-1.8zM210.9 234.2h1.8v1.8h-1.8zM212.6 220.0h1.8v1.8h-1.8zM212.5 230.0h1.8v1.8h-1.8zM212.7 234.7h1.8v1.8h-1.8zM213.7 228.9h1.8v1.8h-1.8zM214.6 212.4h1.8v1.8h-1.8zM214.4 226.8h1.8v1.8h-1.8zM214.5 231.0h1.8v1.8h-1.8zM214.1 234.5h1.8v1.8h-1.8zM215.3 208.9h1.8v1.8h-1.8zM215.7 223.9h1.8v1.8h-1.8zM215.7 227.5h1.8v1.8h-1.8zM215.5 233.4h1.8v1.8h-1.8zM216.2 226.9h1.8v1.8h-1.8zM216.6 232.8h1.8v1.8h-1.8zM217.7 201.8h1.8v1.8h-1.8zM217.2 218.4h1.8v1.8h-1.8zM217.3 233.7h1.8v1.8h-1.8zM217.9 210.2h1.8v1.8h-1.8zM218.3 229.5h1.8v1.8h-1.8zM218.0 234.8h1.8v1.8h-1.8zM219.2 224.7h1.8v1.8h-1.8zM219.0 232.4h1.8v1.8h-1.8zM220.4 219.3h1.8v1.8h-1.8zM220.3 230.3h1.8v1.8h-1.8zM221.1 219.1h1.8v1.8h-1.8zM221.6 235.0h1.8v1.8h-1.8zM222.0 225.0h1.8v1.8h-1.8zM223.0 209.9h1.8v1.8h-1.8zM223.7 233.5h1.8v1.8h-1.8zM223.8 217.2h1.8v1.8h-1.8zM225.2 200.9h1.8v1.8h-1.8zM224.8 226.4h1.8v1.8h-1.8zM224.8 231.2h1.8v1.8h-1.8zM226.0 214.6h1.8v1.8h-1.8zM225.9 230.0h1.8v1.8h-1.8zM227.4 217.6h1.8v1.8h-1.8zM227.5 225.8h1.8v1.8h-1.8zM228.0 205.4h1.8v1.8h-1.8zM228.0 234.0h1.8v1.8h-1.8zM229.6 213.2h1.8v1.8h-1.8zM228.8 233.7h1.8v1.8h-1.8zM230.1 214.7h1.8v1.8h-1.8zM229.9 233.6h1.8v1.8h-1.8zM231.6 231.4h1.8v1.8h-1.8zM232.7 234.1h1.8v1.8h-1.8zM233.2 222.9h1.8v1.8h-1.8zM234.5 228.0h1.8v1.8h-1.8zM235.2 216.8h1.8v1.8h-1.8zM236.5 217.0h1.8v1.8h-1.8zM237.6 206.9h1.8v1.8h-1.8zM237.3 233.6h1.8v1.8h-1.8zM238.4 234.8h1.8v1.8h-1.8zM239.8 191.9h1.8v1.8h-1.8zM240.9 221.1h1.8v1.8h-1.8zM241.9 200.8h1.8v1.8h-1.8zM242.3 233.5h1.8v1.8h-1.8zM244.6 207.5h1.8v1.8h-1.8zM245.1 227.5h1.8v1.8h-1.8zM247.6 234.7h1.8v1.8h-1.8zM250.6 227.5h1.8v1.8h-1.8zM252.2 230.2h1.8v1.8h-1.8zM255.0 232.8h1.8v1.8h-1.8zM258.7 218.6h1.8v1.8h-1.8zM260.7 230.3h1.8v1.8h-1.8zM268.2 220.9h1.8v1.8h-1.8zM271.5 232.0h1.8v1.8h-1.8zM278.1 221.6h1.8v1.8h-1.8z" fill="#ea1c24" fill-opacity="0.55"/><path d="M122.2 35.0h1.8v1.8h-1.8zM137.6 100.3h1.8v1.8h-1.8zM143.2 137.7h1.8v1.8h-1.8zM142.3 147.9h1.8v1.8h-1.8zM130.1 157.0h1.8v1.8h-1.8zM130.1 162.3h1.8v1.8h-1.8zM125.2 171.3h1.8v1.8h-1.8zM123.3 178.4h1.8v1.8h-1.8zM122.8 178.5h1.8v1.8h-1.8zM109.0 215.8h1.8v1.8h-1.8zM100.8 223.0h1.8v1.8h-1.8zM68.4 229.0h1.8v1.8h-1.8zM266.9 35.0h1.8v1.8h-1.8zM227.1 91.6h1.8v1.8h-1.8zM240.0 132.8h1.8v1.8h-1.8zM232.6 147.4h1.8v1.8h-1.8zM227.8 159.3h1.8v1.8h-1.8zM219.9 171.3h1.8v1.8h-1.8zM279.0 204.2h1.8v1.8h-1.8zM251.4 221.1h1.8v1.8h-1.8zM212.1 180.1h1.8v1.8h-1.8zM246.1 195.1h1.8v1.8h-1.8zM235.2 140.6h1.8v1.8h-1.8zM239.3 152.5h1.8v1.8h-1.8zM226.6 164.1h1.8v1.8h-1.8zM219.5 172.9h1.8v1.8h-1.8zM227.7 176.7h1.8v1.8h-1.8zM223.6 182.8h1.8v1.8h-1.8zM236.5 187.8h1.8v1.8h-1.8zM232.2 191.1h1.8v1.8h-1.8zM235.2 197.7h1.8v1.8h-1.8zM85.5 220.4h1.8v1.8h-1.8zM91.9 234.8h1.8v1.8h-1.8zM95.8 224.8h1.8v1.8h-1.8zM100.6 228.8h1.8v1.8h-1.8zM104.5 226.2h1.8v1.8h-1.8zM106.0 228.4h1.8v1.8h-1.8zM106.3 231.7h1.8v1.8h-1.8zM108.7 229.5h1.8v1.8h-1.8zM109.7 233.6h1.8v1.8h-1.8zM111.4 217.8h1.8v1.8h-1.8zM113.3 229.5h1.8v1.8h-1.8zM115.4 229.2h1.8v1.8h-1.8zM117.8 225.1h1.8v1.8h-1.8zM117.6 234.2h1.8v1.8h-1.8zM118.3 233.0h1.8v1.8h-1.8zM119.2 231.2h1.8v1.8h-1.8zM121.1 231.3h1.8v1.8h-1.8zM121.7 233.4h1.8v1.8h-1.8zM122.8 217.4h1.8v1.8h-1.8zM123.6 230.4h1.8v1.8h-1.8zM125.1 228.0h1.8v1.8h-1.8zM125.8 224.2h1.8v1.8h-1.8zM126.4 213.1h1.8v1.8h-1.8zM126.9 232.8h1.8v1.8h-1.8zM127.5 223.7h1.8v1.8h-1.8zM128.0 234.0h1.8v1.8h-1.8zM129.0 227.8h1.8v1.8h-1.8zM129.2 225.8h1.8v1.8h-1.8zM129.8 230.4h1.8v1.8h-1.8zM131.0 231.4h1.8v1.8h-1.8zM131.1 197.6h1.8v1.8h-1.8zM131.4 232.8h1.8v1.8h-1.8zM132.2 223.4h1.8v1.8h-1.8zM133.8 203.8h1.8v1.8h-1.8zM134.0 228.3h1.8v1.8h-1.8zM134.5 202.7h1.8v1.8h-1.8zM134.4 229.7h1.8v1.8h-1.8zM135.4 212.2h1.8v1.8h-1.8zM136.7 192.4h1.8v1.8h-1.8zM136.8 226.1h1.8v1.8h-1.8zM136.3 232.1h1.8v1.8h-1.8zM137.3 215.0h1.8v1.8h-1.8zM137.7 231.0h1.8v1.8h-1.8zM138.2 211.1h1.8v1.8h-1.8zM138.2 229.7h1.8v1.8h-1.8zM138.5 233.1h1.8v1.8h-1.8zM139.1 208.8h1.8v1.8h-1.8zM139.9 225.6h1.8v1.8h-1.8zM139.9 234.0h1.8v1.8h-1.8zM140.2 216.1h1.8v1.8h-1.8zM140.7 225.0h1.8v1.8h-1.8zM140.2 234.3h1.8v1.8h-1.8zM141.3 228.7h1.8v1.8h-1.8zM142.0 233.2h1.8v1.8h-1.8zM141.2 234.1h1.8v1.8h-1.8zM142.4 213.2h1.8v1.8h-1.8zM142.7 229.1h1.8v1.8h-1.8zM142.1 233.5h1.8v1.8h-1.8zM143.6 216.6h1.8v1.8h-1.8zM143.9 226.3h1.8v1.8h-1.8zM144.1 234.7h1.8v1.8h-1.8zM144.5 211.3h1.8v1.8h-1.8zM144.8 230.5h1.8v1.8h-1.8zM144.8 234.3h1.8v1.8h-1.8zM145.3 214.9h1.8v1.8h-1.8zM145.7 225.7h1.8v1.8h-1.8zM145.8 231.3h1.8v1.8h-1.8zM146.4 215.2h1.8v1.8h-1.8zM146.9 223.8h1.8v1.8h-1.8zM147.1 230.3h1.8v1.8h-1.8zM147.0 233.3h1.8v1.8h-1.8zM148.1 195.4h1.8v1.8h-1.8zM147.8 218.5h1.8v1.8h-1.8zM147.2 229.5h1.8v1.8h-1.8zM148.8 198.5h1.8v1.8h-1.8zM149.0 214.1h1.8v1.8h-1.8zM149.0 219.3h1.8v1.8h-1.8zM148.1 226.4h1.8v1.8h-1.8zM148.2 230.3h1.8v1.8h-1.8zM148.5 232.3h1.8v1.8h-1.8zM149.8 211.9h1.8v1.8h-1.8zM149.7 223.2h1.8v1.8h-1.8zM149.2 228.6h1.8v1.8h-1.8zM149.3 231.7h1.8v1.8h-1.8zM150.7 198.7h1.8v1.8h-1.8zM150.2 220.4h1.8v1.8h-1.8zM150.3 227.6h1.8v1.8h-1.8zM150.5 233.4h1.8v1.8h-1.8zM151.3 211.5h1.8v1.8h-1.8zM151.7 221.6h1.8v1.8h-1.8zM151.5 230.3h1.8v1.8h-1.8zM151.2 233.1h1.8v1.8h-1.8zM152.4 209.1h1.8v1.8h-1.8zM152.5 225.4h1.8v1.8h-1.8zM152.8 227.5h1.8v1.8h-1.8zM152.9 230.5h1.8v1.8h-1.8zM153.8 209.1h1.8v1.8h-1.8zM153.6 220.4h1.8v1.8h-1.8zM153.3 227.7h1.8v1.8h-1.8zM153.9 230.4h1.8v1.8h-1.8zM154.4 214.8h1.8v1.8h-1.8zM154.7 222.6h1.8v1.8h-1.8zM154.5 230.3h1.8v1.8h-1.8zM155.9 212.4h1.8v1.8h-1.8zM155.7 224.6h1.8v1.8h-1.8zM155.9 230.4h1.8v1.8h-1.8zM155.8 234.8h1.8v1.8h-1.8zM156.5 212.4h1.8v1.8h-1.8zM156.2 220.6h1.8v1.8h-1.8zM156.9 230.8h1.8v1.8h-1.8zM156.4 235.0h1.8v1.8h-1.8zM157.5 220.3h1.8v1.8h-1.8zM158.0 228.4h1.8v1.8h-1.8zM157.5 231.3h1.8v1.8h-1.8zM157.7 233.6h1.8v1.8h-1.8zM158.9 210.6h1.8v1.8h-1.8zM158.3 222.9h1.8v1.8h-1.8zM159.1 225.6h1.8v1.8h-1.8zM158.8 233.6h1.8v1.8h-1.8zM159.3 212.0h1.8v1.8h-1.8zM160.0 220.8h1.8v1.8h-1.8zM159.9 224.4h1.8v1.8h-1.8zM159.7 228.2h1.8v1.8h-1.8zM159.5 231.4h1.8v1.8h-1.8zM160.4 210.8h1.8v1.8h-1.8zM161.1 221.4h1.8v1.8h-1.8zM160.3 227.2h1.8v1.8h-1.8zM161.6 208.7h1.8v1.8h-1.8zM161.4 219.5h1.8v1.8h-1.8zM161.9 226.9h1.8v1.8h-1.8zM161.9 231.7h1.8v1.8h-1.8zM163.0 213.6h1.8v1.8h-1.8zM162.5 219.5h1.8v1.8h-1.8zM162.1 226.7h1.8v1.8h-1.8zM162.4 231.4h1.8v1.8h-1.8zM162.8 233.9h1.8v1.8h-1.8zM163.4 222.3h1.8v1.8h-1.8zM163.9 226.1h1.8v1.8h-1.8zM163.7 229.2h1.8v1.8h-1.8zM164.1 231.6h1.8v1.8h-1.8zM163.6 233.7h1.8v1.8h-1.8zM164.9 220.8h1.8v1.8h-1.8zM164.8 223.9h1.8v1.8h-1.8zM164.1 228.9h1.8v1.8h-1.8zM164.9 233.4h1.8v1.8h-1.8zM165.4 211.3h1.8v1.8h-1.8zM165.4 217.1h1.8v1.8h-1.8zM165.8 222.5h1.8v1.8h-1.8zM166.0 228.7h1.8v1.8h-1.8zM165.6 232.1h1.8v1.8h-1.8zM166.7 212.0h1.8v1.8h-1.8zM166.1 220.6h1.8v1.8h-1.8zM166.1 225.4h1.8v1.8h-1.8zM166.3 229.3h1.8v1.8h-1.8zM166.3 233.8h1.8v1.8h-1.8zM167.6 226.8h1.8v1.8h-1.8zM168.0 228.2h1.8v1.8h-1.8zM168.0 231.9h1.8v1.8h-1.8zM167.5 233.6h1.8v1.8h-1.8zM168.1 214.5h1.8v1.8h-1.8zM168.9 224.4h1.8v1.8h-1.8zM168.6 227.7h1.8v1.8h-1.8zM168.1 229.1h1.8v1.8h-1.8zM168.8 232.2h1.8v1.8h-1.8zM169.3 215.5h1.8v1.8h-1.8zM169.4 221.1h1.8v1.8h-1.8zM169.3 225.0h1.8v1.8h-1.8zM169.9 229.4h1.8v1.8h-1.8zM170.9 201.0h1.8v1.8h-1.8zM170.9 216.6h1.8v1.8h-1.8zM171.0 222.5h1.8v1.8h-1.8zM170.8 225.5h1.8v1.8h-1.8zM170.9 231.0h1.8v1.8h-1.8zM199.5 216.5h1.8v1.8h-1.8zM199.0 228.2h1.8v1.8h-1.8zM199.7 231.9h1.8v1.8h-1.8zM199.0 233.7h1.8v1.8h-1.8zM200.3 221.5h1.8v1.8h-1.8zM200.6 224.8h1.8v1.8h-1.8zM200.0 227.2h1.8v1.8h-1.8zM200.8 233.1h1.8v1.8h-1.8zM200.3 234.4h1.8v1.8h-1.8zM201.5 220.2h1.8v1.8h-1.8zM200.8 228.8h1.8v1.8h-1.8zM201.1 232.8h1.8v1.8h-1.8zM202.3 213.5h1.8v1.8h-1.8zM201.9 226.7h1.8v1.8h-1.8zM202.5 231.9h1.8v1.8h-1.8zM203.2 223.4h1.8v1.8h-1.8zM203.3 228.2h1.8v1.8h-1.8zM203.0 230.9h1.8v1.8h-1.8zM203.6 234.3h1.8v1.8h-1.8zM204.0 221.7h1.8v1.8h-1.8zM204.4 228.7h1.8v1.8h-1.8zM204.3 234.1h1.8v1.8h-1.8zM205.6 222.3h1.8v1.8h-1.8zM205.6 228.5h1.8v1.8h-1.8zM206.3 196.6h1.8v1.8h-1.8zM206.2 221.8h1.8v1.8h-1.8zM206.2 227.3h1.8v1.8h-1.8zM206.1 231.5h1.8v1.8h-1.8zM207.5 205.8h1.8v1.8h-1.8zM207.4 221.7h1.8v1.8h-1.8zM206.8 231.7h1.8v1.8h-1.8zM207.8 208.0h1.8v1.8h-1.8zM208.3 225.7h1.8v1.8h-1.8zM208.2 231.2h1.8v1.8h-1.8zM209.8 210.7h1.8v1.8h-1.8zM209.4 223.3h1.8v1.8h-1.8zM209.2 230.6h1.8v1.8h-1.8zM209.6 234.2h1.8v1.8h-1.8zM210.4 219.0h1.8v1.8h-1.8zM210.1 228.5h1.8v1.8h-1.8zM211.3 209.0h1.8v1.8h-1.8zM210.9 226.5h1.8v1.8h-1.8zM210.9 230.6h1.8v1.8h-1.8zM212.7 200.1h1.8v1.8h-1.8zM212.0 223.0h1.8v1.8h-1.8zM212.0 230.5h1.8v1.8h-1.8zM213.5 205.0h1.8v1.8h-1.8zM213.7 230.7h1.8v1.8h-1.8zM214.0 214.7h1.8v1.8h-1.8zM214.3 226.6h1.8v1.8h-1.8zM214.2 231.2h1.8v1.8h-1.8zM214.7 235.0h1.8v1.8h-1.8zM215.5 209.6h1.8v1.8h-1.8zM215.3 224.9h1.8v1.8h-1.8zM214.8 228.5h1.8v1.8h-1.8zM214.9 233.3h1.8v1.8h-1.8zM216.5 226.6h1.8v1.8h-1.8zM216.2 234.1h1.8v1.8h-1.8zM217.7 207.2h1.8v1.8h-1.8zM217.6 219.8h1.8v1.8h-1.8zM217.8 235.0h1.8v1.8h-1.8zM218.0 211.8h1.8v1.8h-1.8zM217.9 230.6h1.8v1.8h-1.8zM217.8 234.8h1.8v1.8h-1.8zM219.0 225.8h1.8v1.8h-1.8zM219.8 233.1h1.8v1.8h-1.8zM219.9 222.3h1.8v1.8h-1.8zM220.5 231.1h1.8v1.8h-1.8zM221.4 220.4h1.8v1.8h-1.8zM221.0 234.6h1.8v1.8h-1.8zM222.5 228.8h1.8v1.8h-1.8zM223.5 212.3h1.8v1.8h-1.8zM223.4 234.8h1.8v1.8h-1.8zM224.5 223.3h1.8v1.8h-1.8zM225.3 211.0h1.8v1.8h-1.8zM225.7 226.2h1.8v1.8h-1.8zM225.1 233.7h1.8v1.8h-1.8zM226.3 217.3h1.8v1.8h-1.8zM226.1 229.8h1.8v1.8h-1.8zM227.2 219.7h1.8v1.8h-1.8zM227.4 226.4h1.8v1.8h-1.8zM228.8 211.2h1.8v1.8h-1.8zM228.6 234.2h1.8v1.8h-1.8zM229.3 216.5h1.8v1.8h-1.8zM229.1 233.8h1.8v1.8h-1.8zM230.2 219.4h1.8v1.8h-1.8zM230.0 234.7h1.8v1.8h-1.8zM231.1 233.1h1.8v1.8h-1.8zM232.7 234.6h1.8v1.8h-1.8zM232.9 228.3h1.8v1.8h-1.8zM234.4 231.2h1.8v1.8h-1.8zM235.6 219.4h1.8v1.8h-1.8zM236.8 222.9h1.8v1.8h-1.8zM237.5 219.3h1.8v1.8h-1.8zM237.4 233.5h1.8v1.8h-1.8zM239.5 217.8h1.8v1.8h-1.8zM240.6 200.2h1.8v1.8h-1.8zM241.4 223.9h1.8v1.8h-1.8zM242.7 209.3h1.8v1.8h-1.8zM243.1 220.0h1.8v1.8h-1.8zM243.8 222.6h1.8v1.8h-1.8zM244.8 232.7h1.8v1.8h-1.8zM248.7 228.8h1.8v1.8h-1.8zM250.1 228.7h1.8v1.8h-1.8zM252.1 234.3h1.8v1.8h-1.8zM256.6 219.6h1.8v1.8h-1.8zM258.5 230.9h1.8v1.8h-1.8zM260.2 233.0h1.8v1.8h-1.8zM268.5 232.7h1.8v1.8h-1.8zM271.2 235.0h1.8v1.8h-1.8zM280.3 213.0h1.8v1.8h-1.8z" fill="#ea1c24" fill-opacity="0.55"/><path d="M127.0 35.0h1.8v1.8h-1.8zM122.2 107.2h1.8v1.8h-1.8zM145.7 136.5h1.8v1.8h-1.8zM146.9 148.3h1.8v1.8h-1.8zM137.6 155.7h1.8v1.8h-1.8zM135.5 163.2h1.8v1.8h-1.8zM137.4 170.0h1.8v1.8h-1.8zM144.4 178.7h1.8v1.8h-1.8zM114.8 190.8h1.8v1.8h-1.8zM118.9 216.2h1.8v1.8h-1.8zM104.4 222.1h1.8v1.8h-1.8zM77.6 230.4h1.8v1.8h-1.8zM272.6 35.0h1.8v1.8h-1.8zM243.5 100.1h1.8v1.8h-1.8zM239.5 138.5h1.8v1.8h-1.8zM239.5 152.4h1.8v1.8h-1.8zM224.6 161.3h1.8v1.8h-1.8zM240.8 171.3h1.8v1.8h-1.8zM249.1 201.3h1.8v1.8h-1.8zM259.3 223.4h1.8v1.8h-1.8zM221.1 182.1h1.8v1.8h-1.8zM222.3 122.7h1.8v1.8h-1.8zM222.8 143.1h1.8v1.8h-1.8zM224.9 155.9h1.8v1.8h-1.8zM245.4 165.0h1.8v1.8h-1.8zM225.2 172.4h1.8v1.8h-1.8zM232.2 177.9h1.8v1.8h-1.8zM228.6 182.8h1.8v1.8h-1.8zM250.9 188.3h1.8v1.8h-1.8zM234.4 191.9h1.8v1.8h-1.8zM210.3 198.6h1.8v1.8h-1.8zM85.2 234.3h1.8v1.8h-1.8zM91.5 234.7h1.8v1.8h-1.8zM95.4 229.7h1.8v1.8h-1.8zM102.0 221.9h1.8v1.8h-1.8zM104.3 230.0h1.8v1.8h-1.8zM105.9 233.1h1.8v1.8h-1.8zM107.0 233.8h1.8v1.8h-1.8zM108.6 229.6h1.8v1.8h-1.8zM111.0 203.0h1.8v1.8h-1.8zM112.0 230.5h1.8v1.8h-1.8zM113.9 231.9h1.8v1.8h-1.8zM115.3 234.5h1.8v1.8h-1.8zM117.8 226.2h1.8v1.8h-1.8zM117.7 234.2h1.8v1.8h-1.8zM118.3 234.2h1.8v1.8h-1.8zM119.8 232.1h1.8v1.8h-1.8zM120.8 233.6h1.8v1.8h-1.8zM122.0 233.4h1.8v1.8h-1.8zM122.8 220.7h1.8v1.8h-1.8zM123.8 230.4h1.8v1.8h-1.8zM125.0 229.7h1.8v1.8h-1.8zM126.0 234.1h1.8v1.8h-1.8zM127.0 213.9h1.8v1.8h-1.8zM126.2 232.1h1.8v1.8h-1.8zM127.6 227.2h1.8v1.8h-1.8zM127.4 233.3h1.8v1.8h-1.8zM128.4 229.8h1.8v1.8h-1.8zM129.2 227.4h1.8v1.8h-1.8zM130.0 231.7h1.8v1.8h-1.8zM130.6 231.9h1.8v1.8h-1.8zM131.3 211.9h1.8v1.8h-1.8zM131.5 232.3h1.8v1.8h-1.8zM132.9 233.1h1.8v1.8h-1.8zM134.1 210.4h1.8v1.8h-1.8zM134.0 228.3h1.8v1.8h-1.8zM134.9 204.4h1.8v1.8h-1.8zM134.1 230.5h1.8v1.8h-1.8zM135.6 227.1h1.8v1.8h-1.8zM136.8 194.3h1.8v1.8h-1.8zM137.0 227.5h1.8v1.8h-1.8zM136.3 232.2h1.8v1.8h-1.8zM137.3 221.8h1.8v1.8h-1.8zM137.5 230.2h1.8v1.8h-1.8zM138.2 215.2h1.8v1.8h-1.8zM138.8 230.0h1.8v1.8h-1.8zM138.6 232.6h1.8v1.8h-1.8zM139.1 209.8h1.8v1.8h-1.8zM139.6 226.9h1.8v1.8h-1.8zM139.7 234.9h1.8v1.8h-1.8zM141.1 219.7h1.8v1.8h-1.8zM140.8 227.5h1.8v1.8h-1.8zM140.8 234.9h1.8v1.8h-1.8zM141.8 229.4h1.8v1.8h-1.8zM141.4 233.8h1.8v1.8h-1.8zM141.6 234.4h1.8v1.8h-1.8zM142.7 222.2h1.8v1.8h-1.8zM142.7 229.1h1.8v1.8h-1.8zM142.3 233.9h1.8v1.8h-1.8zM144.1 218.3h1.8v1.8h-1.8zM143.3 228.0h1.8v1.8h-1.8zM143.3 235.1h1.8v1.8h-1.8zM144.8 221.6h1.8v1.8h-1.8zM145.1 230.9h1.8v1.8h-1.8zM145.3 187.4h1.8v1.8h-1.8zM146.1 217.3h1.8v1.8h-1.8zM145.3 227.1h1.8v1.8h-1.8zM145.9 231.2h1.8v1.8h-1.8zM146.3 217.0h1.8v1.8h-1.8zM146.3 224.2h1.8v1.8h-1.8zM146.1 230.4h1.8v1.8h-1.8zM147.0 233.8h1.8v1.8h-1.8zM147.9 199.7h1.8v1.8h-1.8zM147.1 221.3h1.8v1.8h-1.8zM148.0 229.9h1.8v1.8h-1.8zM148.3 199.3h1.8v1.8h-1.8zM148.3 215.2h1.8v1.8h-1.8zM148.1 222.3h1.8v1.8h-1.8zM149.1 227.0h1.8v1.8h-1.8zM149.0 232.0h1.8v1.8h-1.8zM149.1 233.5h1.8v1.8h-1.8zM150.0 212.6h1.8v1.8h-1.8zM149.5 224.0h1.8v1.8h-1.8zM149.1 229.4h1.8v1.8h-1.8zM149.7 231.3h1.8v1.8h-1.8zM150.9 208.0h1.8v1.8h-1.8zM150.4 220.4h1.8v1.8h-1.8zM150.3 227.8h1.8v1.8h-1.8zM150.6 233.2h1.8v1.8h-1.8zM151.7 213.7h1.8v1.8h-1.8zM151.4 222.4h1.8v1.8h-1.8zM151.1 230.7h1.8v1.8h-1.8zM151.4 233.3h1.8v1.8h-1.8zM152.4 212.3h1.8v1.8h-1.8zM152.2 225.2h1.8v1.8h-1.8zM152.8 228.5h1.8v1.8h-1.8zM152.5 230.5h1.8v1.8h-1.8zM153.4 211.4h1.8v1.8h-1.8zM153.7 222.7h1.8v1.8h-1.8zM153.7 227.4h1.8v1.8h-1.8zM153.5 230.1h1.8v1.8h-1.8zM154.8 214.9h1.8v1.8h-1.8zM154.3 222.4h1.8v1.8h-1.8zM154.7 231.3h1.8v1.8h-1.8zM155.1 214.1h1.8v1.8h-1.8zM155.2 224.9h1.8v1.8h-1.8zM155.7 231.6h1.8v1.8h-1.8zM156.2 186.8h1.8v1.8h-1.8zM156.6 215.0h1.8v1.8h-1.8zM156.2 221.2h1.8v1.8h-1.8zM156.7 230.4h1.8v1.8h-1.8zM156.3 234.3h1.8v1.8h-1.8zM158.1 220.3h1.8v1.8h-1.8zM157.9 228.8h1.8v1.8h-1.8zM158.0 232.1h1.8v1.8h-1.8zM158.3 189.8h1.8v1.8h-1.8zM158.3 212.1h1.8v1.8h-1.8zM158.5 222.4h1.8v1.8h-1.8zM159.0 227.9h1.8v1.8h-1.8zM158.3 234.3h1.8v1.8h-1.8zM160.0 213.1h1.8v1.8h-1.8zM159.3 222.4h1.8v1.8h-1.8zM159.9 225.5h1.8v1.8h-1.8zM159.2 229.3h1.8v1.8h-1.8zM159.9 232.2h1.8v1.8h-1.8zM160.5 212.1h1.8v1.8h-1.8zM161.0 223.5h1.8v1.8h-1.8zM160.8 228.3h1.8v1.8h-1.8zM161.4 211.8h1.8v1.8h-1.8zM161.2 219.3h1.8v1.8h-1.8zM161.3 227.9h1.8v1.8h-1.8zM161.5 231.7h1.8v1.8h-1.8zM162.9 214.2h1.8v1.8h-1.8zM162.7 220.6h1.8v1.8h-1.8zM162.9 227.1h1.8v1.8h-1.8zM162.8 231.4h1.8v1.8h-1.8zM162.5 235.1h1.8v1.8h-1.8zM163.2 222.9h1.8v1.8h-1.8zM163.6 226.1h1.8v1.8h-1.8zM163.4 229.8h1.8v1.8h-1.8zM163.7 233.0h1.8v1.8h-1.8zM163.7 234.5h1.8v1.8h-1.8zM164.2 221.7h1.8v1.8h-1.8zM164.1 223.8h1.8v1.8h-1.8zM164.9 230.0h1.8v1.8h-1.8zM164.6 233.5h1.8v1.8h-1.8zM165.7 211.6h1.8v1.8h-1.8zM165.1 217.0h1.8v1.8h-1.8zM166.0 223.7h1.8v1.8h-1.8zM166.0 229.0h1.8v1.8h-1.8zM165.4 232.5h1.8v1.8h-1.8zM166.1 212.7h1.8v1.8h-1.8zM166.7 220.1h1.8v1.8h-1.8zM166.6 227.1h1.8v1.8h-1.8zM166.8 230.3h1.8v1.8h-1.8zM167.9 195.5h1.8v1.8h-1.8zM167.2 226.2h1.8v1.8h-1.8zM167.8 228.7h1.8v1.8h-1.8zM167.3 232.8h1.8v1.8h-1.8zM167.8 234.4h1.8v1.8h-1.8zM168.9 217.6h1.8v1.8h-1.8zM168.2 224.3h1.8v1.8h-1.8zM168.2 227.8h1.8v1.8h-1.8zM168.5 230.2h1.8v1.8h-1.8zM168.4 233.7h1.8v1.8h-1.8zM169.1 217.5h1.8v1.8h-1.8zM169.5 222.7h1.8v1.8h-1.8zM169.9 225.9h1.8v1.8h-1.8zM169.6 230.3h1.8v1.8h-1.8zM170.4 202.3h1.8v1.8h-1.8zM170.2 217.8h1.8v1.8h-1.8zM170.3 223.0h1.8v1.8h-1.8zM170.5 225.4h1.8v1.8h-1.8zM170.9 231.3h1.8v1.8h-1.8zM199.2 219.5h1.8v1.8h-1.8zM198.9 228.5h1.8v1.8h-1.8zM198.8 231.5h1.8v1.8h-1.8zM199.6 234.7h1.8v1.8h-1.8zM199.9 222.3h1.8v1.8h-1.8zM200.2 224.7h1.8v1.8h-1.8zM200.2 228.9h1.8v1.8h-1.8zM200.7 232.6h1.8v1.8h-1.8zM200.5 234.8h1.8v1.8h-1.8zM201.0 221.0h1.8v1.8h-1.8zM201.0 229.8h1.8v1.8h-1.8zM201.3 233.3h1.8v1.8h-1.8zM202.1 215.2h1.8v1.8h-1.8zM202.5 227.9h1.8v1.8h-1.8zM201.9 232.9h1.8v1.8h-1.8zM203.2 223.6h1.8v1.8h-1.8zM203.4 229.0h1.8v1.8h-1.8zM203.7 230.6h1.8v1.8h-1.8zM203.0 234.7h1.8v1.8h-1.8zM204.4 221.4h1.8v1.8h-1.8zM204.4 229.4h1.8v1.8h-1.8zM204.4 233.9h1.8v1.8h-1.8zM205.7 224.9h1.8v1.8h-1.8zM205.1 228.9h1.8v1.8h-1.8zM206.7 201.5h1.8v1.8h-1.8zM206.5 222.2h1.8v1.8h-1.8zM206.0 228.8h1.8v1.8h-1.8zM205.8 232.9h1.8v1.8h-1.8zM206.9 208.7h1.8v1.8h-1.8zM206.8 222.2h1.8v1.8h-1.8zM206.8 233.1h1.8v1.8h-1.8zM207.9 209.4h1.8v1.8h-1.8zM208.4 226.1h1.8v1.8h-1.8zM208.4 232.9h1.8v1.8h-1.8zM209.3 212.8h1.8v1.8h-1.8zM209.8 223.3h1.8v1.8h-1.8zM209.5 231.1h1.8v1.8h-1.8zM209.4 234.8h1.8v1.8h-1.8zM210.6 219.5h1.8v1.8h-1.8zM210.2 229.2h1.8v1.8h-1.8zM211.6 216.4h1.8v1.8h-1.8zM211.0 226.5h1.8v1.8h-1.8zM211.8 232.5h1.8v1.8h-1.8zM212.6 203.3h1.8v1.8h-1.8zM212.4 223.4h1.8v1.8h-1.8zM212.6 231.0h1.8v1.8h-1.8zM213.0 218.3h1.8v1.8h-1.8zM213.7 231.5h1.8v1.8h-1.8zM213.8 214.8h1.8v1.8h-1.8zM214.4 226.6h1.8v1.8h-1.8zM213.8 232.0h1.8v1.8h-1.8zM214.8 234.7h1.8v1.8h-1.8zM214.9 214.6h1.8v1.8h-1.8zM215.0 224.3h1.8v1.8h-1.8zM215.8 228.4h1.8v1.8h-1.8zM215.6 234.0h1.8v1.8h-1.8zM216.6 228.7h1.8v1.8h-1.8zM216.8 233.5h1.8v1.8h-1.8zM217.6 214.1h1.8v1.8h-1.8zM217.5 222.2h1.8v1.8h-1.8zM217.5 234.6h1.8v1.8h-1.8zM218.2 213.6h1.8v1.8h-1.8zM217.9 231.9h1.8v1.8h-1.8zM217.9 234.5h1.8v1.8h-1.8zM219.2 228.1h1.8v1.8h-1.8zM219.5 233.5h1.8v1.8h-1.8zM220.3 227.1h1.8v1.8h-1.8zM220.4 234.2h1.8v1.8h-1.8zM221.8 224.7h1.8v1.8h-1.8zM222.4 196.9h1.8v1.8h-1.8zM222.1 228.2h1.8v1.8h-1.8zM223.2 226.8h1.8v1.8h-1.8zM224.6 194.4h1.8v1.8h-1.8zM224.5 230.9h1.8v1.8h-1.8zM225.0 211.4h1.8v1.8h-1.8zM225.8 227.2h1.8v1.8h-1.8zM225.7 233.9h1.8v1.8h-1.8zM226.5 218.5h1.8v1.8h-1.8zM226.6 230.3h1.8v1.8h-1.8zM226.9 221.5h1.8v1.8h-1.8zM227.4 229.7h1.8v1.8h-1.8zM228.7 213.0h1.8v1.8h-1.8zM228.9 192.5h1.8v1.8h-1.8zM229.3 218.2h1.8v1.8h-1.8zM229.3 234.3h1.8v1.8h-1.8zM230.2 224.2h1.8v1.8h-1.8zM230.6 234.2h1.8v1.8h-1.8zM232.6 206.5h1.8v1.8h-1.8zM233.1 190.2h1.8v1.8h-1.8zM233.7 231.5h1.8v1.8h-1.8zM234.1 233.0h1.8v1.8h-1.8zM235.5 227.9h1.8v1.8h-1.8zM236.7 230.7h1.8v1.8h-1.8zM237.7 226.1h1.8v1.8h-1.8zM237.7 234.7h1.8v1.8h-1.8zM238.9 222.6h1.8v1.8h-1.8zM240.3 212.6h1.8v1.8h-1.8zM240.9 225.1h1.8v1.8h-1.8zM242.5 212.4h1.8v1.8h-1.8zM243.1 225.0h1.8v1.8h-1.8zM244.1 228.7h1.8v1.8h-1.8zM246.5 231.4h1.8v1.8h-1.8zM248.4 231.9h1.8v1.8h-1.8zM250.1 232.5h1.8v1.8h-1.8zM252.9 226.7h1.8v1.8h-1.8zM256.1 228.5h1.8v1.8h-1.8zM258.2 232.0h1.8v1.8h-1.8zM262.0 215.1h1.8v1.8h-1.8zM268.7 234.4h1.8v1.8h-1.8zM272.5 218.1h1.8v1.8h-1.8zM283.5 232.2h1.8v1.8h-1.8z" fill="#ea1c24" fill-opacity="0.55"/><path d="M108.5 43.7h1.8v1.8h-1.8zM134.7 111.3h1.8v1.8h-1.8zM136.0 141.7h1.8v1.8h-1.8zM146.3 149.1h1.8v1.8h-1.8zM134.9 158.9h1.8v1.8h-1.8zM142.6 162.1h1.8v1.8h-1.8zM141.0 169.4h1.8v1.8h-1.8zM146.1 178.7h1.8v1.8h-1.8zM120.3 190.1h1.8v1.8h-1.8zM122.1 216.2h1.8v1.8h-1.8zM107.3 224.9h1.8v1.8h-1.8zM80.2 230.7h1.8v1.8h-1.8zM261.2 47.4h1.8v1.8h-1.8zM229.3 103.1h1.8v1.8h-1.8zM221.4 140.0h1.8v1.8h-1.8zM221.9 153.6h1.8v1.8h-1.8zM226.4 163.3h1.8v1.8h-1.8zM261.3 176.0h1.8v1.8h-1.8zM257.2 211.5h1.8v1.8h-1.8zM268.6 226.9h1.8v1.8h-1.8zM229.1 184.1h1.8v1.8h-1.8zM247.6 121.6h1.8v1.8h-1.8zM240.1 138.6h1.8v1.8h-1.8zM221.1 157.5h1.8v1.8h-1.8zM274.9 167.1h1.8v1.8h-1.8zM232.2 171.7h1.8v1.8h-1.8zM237.3 178.2h1.8v1.8h-1.8zM231.4 183.3h1.8v1.8h-1.8zM254.2 191.1h1.8v1.8h-1.8zM243.1 190.8h1.8v1.8h-1.8zM213.7 197.7h1.8v1.8h-1.8zM86.6 233.8h1.8v1.8h-1.8zM92.2 220.4h1.8v1.8h-1.8zM97.0 212.9h1.8v1.8h-1.8zM102.9 225.0h1.8v1.8h-1.8zM104.3 231.5h1.8v1.8h-1.8zM105.5 233.3h1.8v1.8h-1.8zM106.5 234.5h1.8v1.8h-1.8zM109.0 230.3h1.8v1.8h-1.8zM110.3 203.5h1.8v1.8h-1.8zM112.6 202.9h1.8v1.8h-1.8zM113.8 233.5h1.8v1.8h-1.8zM116.3 200.9h1.8v1.8h-1.8zM117.2 228.5h1.8v1.8h-1.8zM117.4 234.7h1.8v1.8h-1.8zM118.7 234.4h1.8v1.8h-1.8zM119.2 233.6h1.8v1.8h-1.8zM121.9 202.5h1.8v1.8h-1.8zM122.1 233.3h1.8v1.8h-1.8zM122.7 222.1h1.8v1.8h-1.8zM123.2 232.4h1.8v1.8h-1.8zM124.4 230.3h1.8v1.8h-1.8zM125.6 233.7h1.8v1.8h-1.8zM126.9 221.2h1.8v1.8h-1.8zM127.0 234.0h1.8v1.8h-1.8zM127.6 229.2h1.8v1.8h-1.8zM127.7 234.4h1.8v1.8h-1.8zM128.7 229.7h1.8v1.8h-1.8zM130.1 229.1h1.8v1.8h-1.8zM129.9 232.7h1.8v1.8h-1.8zM130.4 233.0h1.8v1.8h-1.8zM132.1 225.8h1.8v1.8h-1.8zM133.0 184.6h1.8v1.8h-1.8zM132.3 232.8h1.8v1.8h-1.8zM133.9 210.6h1.8v1.8h-1.8zM133.1 230.8h1.8v1.8h-1.8zM134.2 220.0h1.8v1.8h-1.8zM135.1 231.9h1.8v1.8h-1.8zM135.9 230.0h1.8v1.8h-1.8zM137.0 195.1h1.8v1.8h-1.8zM136.4 228.3h1.8v1.8h-1.8zM136.9 232.6h1.8v1.8h-1.8zM137.8 221.3h1.8v1.8h-1.8zM137.6 232.8h1.8v1.8h-1.8zM139.1 215.6h1.8v1.8h-1.8zM139.0 230.2h1.8v1.8h-1.8zM138.5 233.3h1.8v1.8h-1.8zM140.0 209.4h1.8v1.8h-1.8zM139.2 229.1h1.8v1.8h-1.8zM139.3 234.4h1.8v1.8h-1.8zM140.9 219.4h1.8v1.8h-1.8zM140.5 229.1h1.8v1.8h-1.8zM140.2 234.3h1.8v1.8h-1.8zM141.3 230.4h1.8v1.8h-1.8zM141.3 233.3h1.8v1.8h-1.8zM142.6 181.8h1.8v1.8h-1.8zM143.0 224.4h1.8v1.8h-1.8zM142.9 229.8h1.8v1.8h-1.8zM142.2 234.3h1.8v1.8h-1.8zM143.9 220.0h1.8v1.8h-1.8zM144.0 229.0h1.8v1.8h-1.8zM143.8 234.5h1.8v1.8h-1.8zM145.0 223.1h1.8v1.8h-1.8zM144.3 231.7h1.8v1.8h-1.8zM145.4 188.2h1.8v1.8h-1.8zM145.6 219.0h1.8v1.8h-1.8zM145.3 227.7h1.8v1.8h-1.8zM145.3 231.6h1.8v1.8h-1.8zM146.6 216.8h1.8v1.8h-1.8zM146.1 225.6h1.8v1.8h-1.8zM146.2 230.5h1.8v1.8h-1.8zM146.4 233.3h1.8v1.8h-1.8zM147.7 211.2h1.8v1.8h-1.8zM147.4 222.6h1.8v1.8h-1.8zM147.4 230.1h1.8v1.8h-1.8zM148.9 207.1h1.8v1.8h-1.8zM148.6 215.3h1.8v1.8h-1.8zM148.7 222.7h1.8v1.8h-1.8zM148.6 226.6h1.8v1.8h-1.8zM148.9 231.8h1.8v1.8h-1.8zM148.7 233.9h1.8v1.8h-1.8zM149.2 214.2h1.8v1.8h-1.8zM149.8 224.7h1.8v1.8h-1.8zM149.3 229.7h1.8v1.8h-1.8zM149.1 233.2h1.8v1.8h-1.8zM151.0 208.5h1.8v1.8h-1.8zM150.3 221.3h1.8v1.8h-1.8zM150.2 229.0h1.8v1.8h-1.8zM151.1 234.6h1.8v1.8h-1.8zM151.1 214.2h1.8v1.8h-1.8zM151.2 225.0h1.8v1.8h-1.8zM151.9 230.4h1.8v1.8h-1.8zM151.6 233.3h1.8v1.8h-1.8zM152.2 219.5h1.8v1.8h-1.8zM153.1 225.3h1.8v1.8h-1.8zM152.2 228.2h1.8v1.8h-1.8zM152.7 230.9h1.8v1.8h-1.8zM153.3 211.3h1.8v1.8h-1.8zM153.2 224.1h1.8v1.8h-1.8zM153.1 228.6h1.8v1.8h-1.8zM154.1 231.2h1.8v1.8h-1.8zM155.0 217.5h1.8v1.8h-1.8zM154.3 224.1h1.8v1.8h-1.8zM155.0 232.6h1.8v1.8h-1.8zM156.0 214.2h1.8v1.8h-1.8zM155.4 226.2h1.8v1.8h-1.8zM155.9 231.8h1.8v1.8h-1.8zM156.2 196.9h1.8v1.8h-1.8zM156.8 215.1h1.8v1.8h-1.8zM156.7 222.3h1.8v1.8h-1.8zM156.7 230.8h1.8v1.8h-1.8zM157.7 209.4h1.8v1.8h-1.8zM157.3 221.6h1.8v1.8h-1.8zM157.9 229.0h1.8v1.8h-1.8zM157.2 232.8h1.8v1.8h-1.8zM158.7 199.2h1.8v1.8h-1.8zM158.7 213.8h1.8v1.8h-1.8zM158.5 223.6h1.8v1.8h-1.8zM158.4 228.8h1.8v1.8h-1.8zM158.4 234.7h1.8v1.8h-1.8zM159.4 212.8h1.8v1.8h-1.8zM159.3 223.0h1.8v1.8h-1.8zM159.6 226.5h1.8v1.8h-1.8zM159.2 230.0h1.8v1.8h-1.8zM160.0 233.1h1.8v1.8h-1.8zM160.3 212.8h1.8v1.8h-1.8zM160.9 224.5h1.8v1.8h-1.8zM161.1 229.6h1.8v1.8h-1.8zM161.6 212.2h1.8v1.8h-1.8zM162.0 220.3h1.8v1.8h-1.8zM161.1 227.5h1.8v1.8h-1.8zM161.8 232.0h1.8v1.8h-1.8zM162.9 215.0h1.8v1.8h-1.8zM162.9 221.5h1.8v1.8h-1.8zM162.8 226.6h1.8v1.8h-1.8zM163.0 233.0h1.8v1.8h-1.8zM163.0 234.9h1.8v1.8h-1.8zM164.0 222.7h1.8v1.8h-1.8zM163.6 225.3h1.8v1.8h-1.8zM163.4 229.8h1.8v1.8h-1.8zM163.8 232.2h1.8v1.8h-1.8zM164.4 211.9h1.8v1.8h-1.8zM164.7 221.7h1.8v1.8h-1.8zM164.8 224.2h1.8v1.8h-1.8zM164.9 230.3h1.8v1.8h-1.8zM165.0 234.9h1.8v1.8h-1.8zM165.7 211.8h1.8v1.8h-1.8zM165.6 219.1h1.8v1.8h-1.8zM165.6 223.8h1.8v1.8h-1.8zM165.2 229.3h1.8v1.8h-1.8zM165.8 233.0h1.8v1.8h-1.8zM166.4 215.7h1.8v1.8h-1.8zM166.5 223.1h1.8v1.8h-1.8zM166.8 226.2h1.8v1.8h-1.8zM166.9 230.3h1.8v1.8h-1.8zM167.8 212.7h1.8v1.8h-1.8zM168.0 227.2h1.8v1.8h-1.8zM167.6 228.4h1.8v1.8h-1.8zM168.0 232.1h1.8v1.8h-1.8zM167.5 234.7h1.8v1.8h-1.8zM168.2 219.1h1.8v1.8h-1.8zM168.8 225.7h1.8v1.8h-1.8zM168.3 228.2h1.8v1.8h-1.8zM168.8 230.7h1.8v1.8h-1.8zM169.9 191.1h1.8v1.8h-1.8zM169.2 217.6h1.8v1.8h-1.8zM169.3 222.4h1.8v1.8h-1.8zM169.6 225.4h1.8v1.8h-1.8zM169.2 232.7h1.8v1.8h-1.8zM170.3 211.5h1.8v1.8h-1.8zM170.5 219.9h1.8v1.8h-1.8zM170.8 222.2h1.8v1.8h-1.8zM171.1 226.8h1.8v1.8h-1.8zM170.3 232.7h1.8v1.8h-1.8zM199.3 222.0h1.8v1.8h-1.8zM199.0 229.1h1.8v1.8h-1.8zM199.4 231.4h1.8v1.8h-1.8zM200.1 208.7h1.8v1.8h-1.8zM200.5 222.5h1.8v1.8h-1.8zM200.4 225.3h1.8v1.8h-1.8zM200.2 229.0h1.8v1.8h-1.8zM200.7 232.4h1.8v1.8h-1.8zM200.2 234.7h1.8v1.8h-1.8zM201.0 221.4h1.8v1.8h-1.8zM201.0 230.8h1.8v1.8h-1.8zM201.6 233.4h1.8v1.8h-1.8zM202.1 216.8h1.8v1.8h-1.8zM202.4 227.3h1.8v1.8h-1.8zM202.7 232.7h1.8v1.8h-1.8zM203.8 225.6h1.8v1.8h-1.8zM203.5 229.7h1.8v1.8h-1.8zM203.8 231.9h1.8v1.8h-1.8zM204.0 207.5h1.8v1.8h-1.8zM204.3 222.2h1.8v1.8h-1.8zM204.6 229.3h1.8v1.8h-1.8zM204.4 235.0h1.8v1.8h-1.8zM204.9 225.6h1.8v1.8h-1.8zM204.9 229.5h1.8v1.8h-1.8zM206.1 201.4h1.8v1.8h-1.8zM206.0 224.8h1.8v1.8h-1.8zM206.7 229.0h1.8v1.8h-1.8zM206.5 232.2h1.8v1.8h-1.8zM207.4 216.6h1.8v1.8h-1.8zM207.4 225.0h1.8v1.8h-1.8zM207.1 232.8h1.8v1.8h-1.8zM208.0 216.0h1.8v1.8h-1.8zM208.2 226.8h1.8v1.8h-1.8zM208.0 232.3h1.8v1.8h-1.8zM209.1 214.0h1.8v1.8h-1.8zM209.7 224.8h1.8v1.8h-1.8zM209.3 231.9h1.8v1.8h-1.8zM210.4 196.4h1.8v1.8h-1.8zM210.6 221.0h1.8v1.8h-1.8zM209.8 233.8h1.8v1.8h-1.8zM211.6 216.2h1.8v1.8h-1.8zM211.4 226.5h1.8v1.8h-1.8zM211.4 232.4h1.8v1.8h-1.8zM212.4 213.8h1.8v1.8h-1.8zM212.3 224.2h1.8v1.8h-1.8zM212.4 231.1h1.8v1.8h-1.8zM213.7 218.2h1.8v1.8h-1.8zM213.5 232.6h1.8v1.8h-1.8zM214.5 216.3h1.8v1.8h-1.8zM214.3 227.1h1.8v1.8h-1.8zM214.8 232.3h1.8v1.8h-1.8zM214.8 193.3h1.8v1.8h-1.8zM215.4 219.4h1.8v1.8h-1.8zM215.0 225.9h1.8v1.8h-1.8zM214.8 229.3h1.8v1.8h-1.8zM215.7 233.6h1.8v1.8h-1.8zM216.0 230.7h1.8v1.8h-1.8zM216.0 233.8h1.8v1.8h-1.8zM217.1 214.0h1.8v1.8h-1.8zM217.1 224.4h1.8v1.8h-1.8zM218.1 201.2h1.8v1.8h-1.8zM218.6 214.6h1.8v1.8h-1.8zM218.8 231.9h1.8v1.8h-1.8zM219.2 206.5h1.8v1.8h-1.8zM218.9 230.0h1.8v1.8h-1.8zM219.4 235.0h1.8v1.8h-1.8zM220.7 226.7h1.8v1.8h-1.8zM221.7 201.6h1.8v1.8h-1.8zM221.0 228.0h1.8v1.8h-1.8zM222.2 204.6h1.8v1.8h-1.8zM222.4 231.4h1.8v1.8h-1.8zM223.1 226.9h1.8v1.8h-1.8zM224.3 196.2h1.8v1.8h-1.8zM224.0 231.1h1.8v1.8h-1.8zM224.9 220.1h1.8v1.8h-1.8zM224.9 227.4h1.8v1.8h-1.8zM225.0 233.5h1.8v1.8h-1.8zM226.5 221.0h1.8v1.8h-1.8zM226.8 230.3h1.8v1.8h-1.8zM227.8 221.6h1.8v1.8h-1.8zM227.1 230.1h1.8v1.8h-1.8zM228.6 213.8h1.8v1.8h-1.8zM229.1 196.5h1.8v1.8h-1.8zM228.9 220.9h1.8v1.8h-1.8zM228.9 234.4h1.8v1.8h-1.8zM230.8 228.9h1.8v1.8h-1.8zM231.5 196.0h1.8v1.8h-1.8zM232.1 217.1h1.8v1.8h-1.8zM233.7 205.3h1.8v1.8h-1.8zM233.7 234.6h1.8v1.8h-1.8zM235.3 197.5h1.8v1.8h-1.8zM235.7 230.6h1.8v1.8h-1.8zM236.3 233.4h1.8v1.8h-1.8zM237.2 227.5h1.8v1.8h-1.8zM237.0 235.0h1.8v1.8h-1.8zM239.5 223.2h1.8v1.8h-1.8zM240.4 228.1h1.8v1.8h-1.8zM241.1 229.3h1.8v1.8h-1.8zM241.9 213.3h1.8v1.8h-1.8zM243.0 226.7h1.8v1.8h-1.8zM244.7 229.6h1.8v1.8h-1.8zM245.9 233.0h1.8v1.8h-1.8zM248.6 233.5h1.8v1.8h-1.8zM250.6 232.3h1.8v1.8h-1.8zM253.1 230.7h1.8v1.8h-1.8zM256.2 233.1h1.8v1.8h-1.8zM259.7 212.3h1.8v1.8h-1.8zM263.4 220.4h1.8v1.8h-1.8zM268.9 208.5h1.8v1.8h-1.8zM272.3 232.9h1.8v1.8h-1.8zM286.0 232.1h1.8v1.8h-1.8z" fill="#ea1c24" fill-opacity="0.55"/><path d="M116.7 46.4h1.8v1.8h-1.8zM138.6 113.5h1.8v1.8h-1.8zM114.6 144.3h1.8v1.8h-1.8zM135.1 151.4h1.8v1.8h-1.8zM136.1 158.0h1.8v1.8h-1.8zM140.1 165.7h1.8v1.8h-1.8zM145.4 170.0h1.8v1.8h-1.8zM154.8 177.7h1.8v1.8h-1.8zM92.1 198.8h1.8v1.8h-1.8zM87.7 216.9h1.8v1.8h-1.8zM114.5 222.7h1.8v1.8h-1.8zM89.2 227.8h1.8v1.8h-1.8zM254.5 76.3h1.8v1.8h-1.8zM222.5 123.0h1.8v1.8h-1.8zM235.1 140.5h1.8v1.8h-1.8zM225.1 156.1h1.8v1.8h-1.8zM245.2 165.1h1.8v1.8h-1.8zM249.1 142.7h1.8v1.8h-1.8zM267.1 213.8h1.8v1.8h-1.8zM262.1 228.3h1.8v1.8h-1.8zM235.1 181.1h1.8v1.8h-1.8zM230.7 128.4h1.8v1.8h-1.8zM248.4 142.6h1.8v1.8h-1.8zM233.2 156.7h1.8v1.8h-1.8zM226.1 169.1h1.8v1.8h-1.8zM239.8 173.7h1.8v1.8h-1.8zM260.8 175.9h1.8v1.8h-1.8zM213.7 185.7h1.8v1.8h-1.8zM259.7 193.1h1.8v1.8h-1.8zM207.9 193.3h1.8v1.8h-1.8zM65.1 227.6h1.8v1.8h-1.8zM86.3 235.0h1.8v1.8h-1.8zM92.8 231.3h1.8v1.8h-1.8zM99.6 220.8h1.8v1.8h-1.8zM102.4 233.1h1.8v1.8h-1.8zM105.0 233.0h1.8v1.8h-1.8zM106.6 222.6h1.8v1.8h-1.8zM107.8 232.4h1.8v1.8h-1.8zM108.3 231.9h1.8v1.8h-1.8zM110.7 216.9h1.8v1.8h-1.8zM112.5 212.6h1.8v1.8h-1.8zM114.3 193.2h1.8v1.8h-1.8zM117.0 228.1h1.8v1.8h-1.8zM117.2 229.4h1.8v1.8h-1.8zM117.6 234.7h1.8v1.8h-1.8zM120.1 207.6h1.8v1.8h-1.8zM119.6 233.3h1.8v1.8h-1.8zM122.0 207.2h1.8v1.8h-1.8zM121.4 233.8h1.8v1.8h-1.8zM122.2 229.5h1.8v1.8h-1.8zM123.9 234.8h1.8v1.8h-1.8zM124.3 235.0h1.8v1.8h-1.8zM125.1 233.8h1.8v1.8h-1.8zM126.8 224.1h1.8v1.8h-1.8zM126.2 235.0h1.8v1.8h-1.8zM127.6 231.3h1.8v1.8h-1.8zM128.8 207.3h1.8v1.8h-1.8zM129.0 231.1h1.8v1.8h-1.8zM129.9 229.0h1.8v1.8h-1.8zM129.7 233.2h1.8v1.8h-1.8zM131.0 233.6h1.8v1.8h-1.8zM131.6 225.4h1.8v1.8h-1.8zM132.4 197.9h1.8v1.8h-1.8zM133.0 232.8h1.8v1.8h-1.8zM133.4 216.9h1.8v1.8h-1.8zM133.6 233.0h1.8v1.8h-1.8zM135.1 220.7h1.8v1.8h-1.8zM134.8 232.8h1.8v1.8h-1.8zM135.6 231.7h1.8v1.8h-1.8zM137.0 218.2h1.8v1.8h-1.8zM136.1 229.4h1.8v1.8h-1.8zM136.5 233.4h1.8v1.8h-1.8zM137.8 224.1h1.8v1.8h-1.8zM137.7 233.6h1.8v1.8h-1.8zM138.9 221.8h1.8v1.8h-1.8zM138.3 230.6h1.8v1.8h-1.8zM139.1 234.7h1.8v1.8h-1.8zM139.3 213.8h1.8v1.8h-1.8zM140.0 229.2h1.8v1.8h-1.8zM139.9 234.3h1.8v1.8h-1.8zM140.7 221.2h1.8v1.8h-1.8zM140.7 229.7h1.8v1.8h-1.8zM140.3 234.9h1.8v1.8h-1.8zM141.5 231.6h1.8v1.8h-1.8zM141.6 234.0h1.8v1.8h-1.8zM142.5 199.3h1.8v1.8h-1.8zM142.7 225.2h1.8v1.8h-1.8zM142.9 231.0h1.8v1.8h-1.8zM142.3 234.2h1.8v1.8h-1.8zM143.3 220.5h1.8v1.8h-1.8zM143.9 228.9h1.8v1.8h-1.8zM144.0 235.0h1.8v1.8h-1.8zM144.7 224.3h1.8v1.8h-1.8zM145.1 233.0h1.8v1.8h-1.8zM145.3 195.6h1.8v1.8h-1.8zM145.6 220.9h1.8v1.8h-1.8zM145.5 228.3h1.8v1.8h-1.8zM145.9 231.5h1.8v1.8h-1.8zM146.5 219.3h1.8v1.8h-1.8zM146.4 227.0h1.8v1.8h-1.8zM147.1 231.6h1.8v1.8h-1.8zM146.9 233.8h1.8v1.8h-1.8zM147.3 213.9h1.8v1.8h-1.8zM148.0 222.3h1.8v1.8h-1.8zM147.8 229.2h1.8v1.8h-1.8zM148.8 207.3h1.8v1.8h-1.8zM149.1 216.4h1.8v1.8h-1.8zM148.4 223.6h1.8v1.8h-1.8zM149.1 227.9h1.8v1.8h-1.8zM148.4 231.6h1.8v1.8h-1.8zM150.1 195.1h1.8v1.8h-1.8zM150.0 215.6h1.8v1.8h-1.8zM149.7 225.0h1.8v1.8h-1.8zM150.0 229.9h1.8v1.8h-1.8zM149.4 233.5h1.8v1.8h-1.8zM150.3 211.2h1.8v1.8h-1.8zM150.3 221.2h1.8v1.8h-1.8zM150.2 229.4h1.8v1.8h-1.8zM151.5 193.1h1.8v1.8h-1.8zM152.0 217.1h1.8v1.8h-1.8zM151.4 225.2h1.8v1.8h-1.8zM151.3 230.8h1.8v1.8h-1.8zM151.7 233.2h1.8v1.8h-1.8zM152.9 222.6h1.8v1.8h-1.8zM152.7 226.4h1.8v1.8h-1.8zM152.5 228.8h1.8v1.8h-1.8zM152.7 230.1h1.8v1.8h-1.8zM153.3 215.7h1.8v1.8h-1.8zM153.4 226.2h1.8v1.8h-1.8zM153.4 228.3h1.8v1.8h-1.8zM154.0 234.1h1.8v1.8h-1.8zM154.3 217.2h1.8v1.8h-1.8zM154.2 225.2h1.8v1.8h-1.8zM154.5 233.4h1.8v1.8h-1.8zM155.3 215.1h1.8v1.8h-1.8zM156.1 227.3h1.8v1.8h-1.8zM155.7 232.0h1.8v1.8h-1.8zM157.0 198.0h1.8v1.8h-1.8zM156.3 215.5h1.8v1.8h-1.8zM156.3 225.9h1.8v1.8h-1.8zM156.6 231.4h1.8v1.8h-1.8zM157.9 209.4h1.8v1.8h-1.8zM157.2 222.6h1.8v1.8h-1.8zM157.6 228.4h1.8v1.8h-1.8zM157.5 232.7h1.8v1.8h-1.8zM158.5 199.3h1.8v1.8h-1.8zM158.8 213.9h1.8v1.8h-1.8zM158.8 224.0h1.8v1.8h-1.8zM158.4 228.5h1.8v1.8h-1.8zM158.7 234.7h1.8v1.8h-1.8zM160.1 212.9h1.8v1.8h-1.8zM159.3 222.6h1.8v1.8h-1.8zM159.6 228.1h1.8v1.8h-1.8zM160.0 229.5h1.8v1.8h-1.8zM159.3 232.7h1.8v1.8h-1.8zM160.1 215.9h1.8v1.8h-1.8zM160.2 225.4h1.8v1.8h-1.8zM160.4 230.7h1.8v1.8h-1.8zM161.3 213.3h1.8v1.8h-1.8zM161.4 221.0h1.8v1.8h-1.8zM161.6 227.5h1.8v1.8h-1.8zM161.2 232.3h1.8v1.8h-1.8zM162.6 214.3h1.8v1.8h-1.8zM163.0 221.5h1.8v1.8h-1.8zM162.6 226.5h1.8v1.8h-1.8zM162.4 232.7h1.8v1.8h-1.8zM163.3 212.1h1.8v1.8h-1.8zM163.8 223.5h1.8v1.8h-1.8zM163.5 226.0h1.8v1.8h-1.8zM163.2 230.7h1.8v1.8h-1.8zM163.3 233.0h1.8v1.8h-1.8zM165.0 216.3h1.8v1.8h-1.8zM164.2 222.7h1.8v1.8h-1.8zM164.7 225.4h1.8v1.8h-1.8zM164.3 231.0h1.8v1.8h-1.8zM164.4 235.0h1.8v1.8h-1.8zM165.6 214.7h1.8v1.8h-1.8zM165.3 218.6h1.8v1.8h-1.8zM165.9 224.0h1.8v1.8h-1.8zM165.2 230.2h1.8v1.8h-1.8zM165.4 233.4h1.8v1.8h-1.8zM166.5 215.2h1.8v1.8h-1.8zM166.3 222.9h1.8v1.8h-1.8zM167.0 227.7h1.8v1.8h-1.8zM167.0 230.1h1.8v1.8h-1.8zM167.2 219.6h1.8v1.8h-1.8zM167.5 228.1h1.8v1.8h-1.8zM167.7 230.0h1.8v1.8h-1.8zM167.5 233.1h1.8v1.8h-1.8zM168.1 234.6h1.8v1.8h-1.8zM168.9 220.8h1.8v1.8h-1.8zM168.1 225.9h1.8v1.8h-1.8zM168.4 228.8h1.8v1.8h-1.8zM168.2 231.5h1.8v1.8h-1.8zM169.8 199.3h1.8v1.8h-1.8zM169.7 217.9h1.8v1.8h-1.8zM170.0 223.4h1.8v1.8h-1.8zM169.9 226.7h1.8v1.8h-1.8zM169.5 232.7h1.8v1.8h-1.8zM170.9 211.4h1.8v1.8h-1.8zM170.8 219.9h1.8v1.8h-1.8zM170.6 222.4h1.8v1.8h-1.8zM170.8 228.8h1.8v1.8h-1.8zM170.9 232.7h1.8v1.8h-1.8zM199.5 223.5h1.8v1.8h-1.8zM198.9 229.9h1.8v1.8h-1.8zM199.0 233.2h1.8v1.8h-1.8zM199.9 217.4h1.8v1.8h-1.8zM200.8 223.8h1.8v1.8h-1.8zM200.2 226.9h1.8v1.8h-1.8zM200.7 228.9h1.8v1.8h-1.8zM200.4 234.0h1.8v1.8h-1.8zM201.3 211.7h1.8v1.8h-1.8zM201.0 221.1h1.8v1.8h-1.8zM201.3 230.6h1.8v1.8h-1.8zM201.7 234.6h1.8v1.8h-1.8zM202.7 217.5h1.8v1.8h-1.8zM202.5 228.9h1.8v1.8h-1.8zM202.6 234.1h1.8v1.8h-1.8zM203.2 225.9h1.8v1.8h-1.8zM203.5 229.7h1.8v1.8h-1.8zM202.9 231.6h1.8v1.8h-1.8zM204.4 215.3h1.8v1.8h-1.8zM204.0 223.3h1.8v1.8h-1.8zM204.7 230.4h1.8v1.8h-1.8zM205.1 206.5h1.8v1.8h-1.8zM205.6 226.3h1.8v1.8h-1.8zM205.3 229.9h1.8v1.8h-1.8zM206.4 209.6h1.8v1.8h-1.8zM206.0 225.2h1.8v1.8h-1.8zM206.2 228.3h1.8v1.8h-1.8zM206.5 233.3h1.8v1.8h-1.8zM207.2 217.8h1.8v1.8h-1.8zM207.6 225.9h1.8v1.8h-1.8zM207.2 233.9h1.8v1.8h-1.8zM208.0 220.9h1.8v1.8h-1.8zM208.1 226.5h1.8v1.8h-1.8zM208.1 233.6h1.8v1.8h-1.8zM209.7 214.9h1.8v1.8h-1.8zM209.5 225.4h1.8v1.8h-1.8zM209.1 231.7h1.8v1.8h-1.8zM210.6 202.2h1.8v1.8h-1.8zM210.3 222.1h1.8v1.8h-1.8zM210.5 234.0h1.8v1.8h-1.8zM211.7 217.7h1.8v1.8h-1.8zM211.4 227.2h1.8v1.8h-1.8zM211.8 232.4h1.8v1.8h-1.8zM212.3 215.7h1.8v1.8h-1.8zM212.2 225.1h1.8v1.8h-1.8zM212.7 232.9h1.8v1.8h-1.8zM213.2 220.1h1.8v1.8h-1.8zM213.7 232.5h1.8v1.8h-1.8zM214.6 217.1h1.8v1.8h-1.8zM213.9 227.3h1.8v1.8h-1.8zM214.7 233.1h1.8v1.8h-1.8zM215.2 195.3h1.8v1.8h-1.8zM215.1 221.6h1.8v1.8h-1.8zM215.7 226.5h1.8v1.8h-1.8zM215.0 230.6h1.8v1.8h-1.8zM215.8 233.3h1.8v1.8h-1.8zM216.4 231.7h1.8v1.8h-1.8zM216.4 234.0h1.8v1.8h-1.8zM217.0 217.5h1.8v1.8h-1.8zM217.2 228.6h1.8v1.8h-1.8zM218.5 202.9h1.8v1.8h-1.8zM218.1 217.9h1.8v1.8h-1.8zM218.3 233.4h1.8v1.8h-1.8zM219.1 211.8h1.8v1.8h-1.8zM219.6 229.9h1.8v1.8h-1.8zM220.3 197.9h1.8v1.8h-1.8zM220.4 227.2h1.8v1.8h-1.8zM221.6 203.4h1.8v1.8h-1.8zM221.1 228.1h1.8v1.8h-1.8zM222.4 208.0h1.8v1.8h-1.8zM222.0 232.5h1.8v1.8h-1.8zM223.6 227.1h1.8v1.8h-1.8zM224.5 202.6h1.8v1.8h-1.8zM223.8 232.9h1.8v1.8h-1.8zM225.6 220.9h1.8v1.8h-1.8zM225.7 228.5h1.8v1.8h-1.8zM224.9 234.6h1.8v1.8h-1.8zM225.9 222.1h1.8v1.8h-1.8zM226.7 232.2h1.8v1.8h-1.8zM227.7 221.6h1.8v1.8h-1.8zM227.0 231.9h1.8v1.8h-1.8zM227.9 217.2h1.8v1.8h-1.8zM229.4 203.3h1.8v1.8h-1.8zM228.9 224.0h1.8v1.8h-1.8zM229.8 196.2h1.8v1.8h-1.8zM229.8 230.5h1.8v1.8h-1.8zM231.2 207.8h1.8v1.8h-1.8zM232.0 220.1h1.8v1.8h-1.8zM233.1 213.2h1.8v1.8h-1.8zM233.5 234.8h1.8v1.8h-1.8zM235.8 205.5h1.8v1.8h-1.8zM235.7 230.3h1.8v1.8h-1.8zM236.6 234.5h1.8v1.8h-1.8zM237.6 229.1h1.8v1.8h-1.8zM238.8 213.8h1.8v1.8h-1.8zM239.7 225.1h1.8v1.8h-1.8zM240.2 230.1h1.8v1.8h-1.8zM241.8 230.8h1.8v1.8h-1.8zM242.4 220.3h1.8v1.8h-1.8zM243.6 229.5h1.8v1.8h-1.8zM244.6 234.1h1.8v1.8h-1.8zM246.5 234.9h1.8v1.8h-1.8zM248.0 234.5h1.8v1.8h-1.8zM250.5 234.7h1.8v1.8h-1.8zM254.1 201.0h1.8v1.8h-1.8zM256.7 235.0h1.8v1.8h-1.8zM259.5 220.9h1.8v1.8h-1.8zM263.0 232.8h1.8v1.8h-1.8zM269.2 228.5h1.8v1.8h-1.8zM272.9 234.5h1.8v1.8h-1.8zM288.3 228.8h1.8v1.8h-1.8z" fill="#ea1c24" fill-opacity="0.55"/><path d="M118.8 52.3h1.8v1.8h-1.8zM88.9 118.1h1.8v1.8h-1.8zM145.1 143.9h1.8v1.8h-1.8zM150.0 153.0h1.8v1.8h-1.8zM114.0 159.5h1.8v1.8h-1.8zM146.1 166.7h1.8v1.8h-1.8zM146.9 172.8h1.8v1.8h-1.8zM115.5 172.3h1.8v1.8h-1.8zM89.5 201.0h1.8v1.8h-1.8zM120.3 220.1h1.8v1.8h-1.8zM110.9 226.8h1.8v1.8h-1.8zM86.3 231.4h1.8v1.8h-1.8zM239.1 79.5h1.8v1.8h-1.8zM247.7 121.5h1.8v1.8h-1.8zM248.4 142.2h1.8v1.8h-1.8zM220.9 157.6h1.8v1.8h-1.8zM274.7 167.3h1.8v1.8h-1.8zM251.4 188.5h1.8v1.8h-1.8zM263.6 215.8h1.8v1.8h-1.8zM290.3 231.2h1.8v1.8h-1.8zM243.1 185.1h1.8v1.8h-1.8zM226.9 132.8h1.8v1.8h-1.8zM235.5 144.4h1.8v1.8h-1.8zM238.8 157.5h1.8v1.8h-1.8zM233.9 169.3h1.8v1.8h-1.8zM216.1 175.7h1.8v1.8h-1.8zM219.1 179.5h1.8v1.8h-1.8zM212.0 187.0h1.8v1.8h-1.8zM207.9 190.0h1.8v1.8h-1.8zM217.8 195.3h1.8v1.8h-1.8zM70.4 234.6h1.8v1.8h-1.8zM86.2 234.5h1.8v1.8h-1.8zM93.6 230.3h1.8v1.8h-1.8zM99.6 223.1h1.8v1.8h-1.8zM104.0 215.1h1.8v1.8h-1.8zM104.8 234.0h1.8v1.8h-1.8zM106.7 223.4h1.8v1.8h-1.8zM109.0 194.8h1.8v1.8h-1.8zM108.8 235.1h1.8v1.8h-1.8zM110.6 224.6h1.8v1.8h-1.8zM112.9 231.1h1.8v1.8h-1.8zM114.2 209.0h1.8v1.8h-1.8zM116.9 229.5h1.8v1.8h-1.8zM117.2 231.0h1.8v1.8h-1.8zM118.4 208.9h1.8v1.8h-1.8zM119.7 214.7h1.8v1.8h-1.8zM119.7 234.7h1.8v1.8h-1.8zM121.7 208.7h1.8v1.8h-1.8zM121.7 233.3h1.8v1.8h-1.8zM122.5 230.2h1.8v1.8h-1.8zM123.3 234.3h1.8v1.8h-1.8zM124.2 234.6h1.8v1.8h-1.8zM125.2 235.0h1.8v1.8h-1.8zM127.1 226.8h1.8v1.8h-1.8zM126.7 234.4h1.8v1.8h-1.8zM127.9 231.2h1.8v1.8h-1.8zM128.7 215.5h1.8v1.8h-1.8zM128.3 231.6h1.8v1.8h-1.8zM129.4 230.0h1.8v1.8h-1.8zM129.6 234.2h1.8v1.8h-1.8zM130.5 234.1h1.8v1.8h-1.8zM131.9 226.5h1.8v1.8h-1.8zM133.1 205.2h1.8v1.8h-1.8zM132.2 234.1h1.8v1.8h-1.8zM133.9 222.8h1.8v1.8h-1.8zM134.0 234.0h1.8v1.8h-1.8zM134.1 221.9h1.8v1.8h-1.8zM134.8 233.7h1.8v1.8h-1.8zM135.5 233.4h1.8v1.8h-1.8zM136.5 218.4h1.8v1.8h-1.8zM136.6 230.7h1.8v1.8h-1.8zM136.5 234.2h1.8v1.8h-1.8zM137.8 223.5h1.8v1.8h-1.8zM137.3 233.4h1.8v1.8h-1.8zM138.2 226.1h1.8v1.8h-1.8zM138.5 231.1h1.8v1.8h-1.8zM138.5 234.3h1.8v1.8h-1.8zM139.3 216.1h1.8v1.8h-1.8zM140.0 229.5h1.8v1.8h-1.8zM140.1 183.6h1.8v1.8h-1.8zM140.8 221.2h1.8v1.8h-1.8zM140.6 232.6h1.8v1.8h-1.8zM141.3 217.8h1.8v1.8h-1.8zM141.6 232.0h1.8v1.8h-1.8zM142.1 233.2h1.8v1.8h-1.8zM142.1 201.5h1.8v1.8h-1.8zM142.8 225.9h1.8v1.8h-1.8zM142.1 230.7h1.8v1.8h-1.8zM143.4 192.2h1.8v1.8h-1.8zM143.6 220.6h1.8v1.8h-1.8zM143.9 229.3h1.8v1.8h-1.8zM143.5 234.5h1.8v1.8h-1.8zM144.5 226.0h1.8v1.8h-1.8zM144.5 232.9h1.8v1.8h-1.8zM145.2 197.9h1.8v1.8h-1.8zM145.2 220.3h1.8v1.8h-1.8zM145.9 228.3h1.8v1.8h-1.8zM145.8 232.4h1.8v1.8h-1.8zM147.0 220.0h1.8v1.8h-1.8zM146.8 226.2h1.8v1.8h-1.8zM147.1 231.8h1.8v1.8h-1.8zM146.3 234.6h1.8v1.8h-1.8zM147.2 214.7h1.8v1.8h-1.8zM147.8 226.5h1.8v1.8h-1.8zM148.0 230.2h1.8v1.8h-1.8zM148.4 208.3h1.8v1.8h-1.8zM149.0 218.6h1.8v1.8h-1.8zM149.1 225.1h1.8v1.8h-1.8zM149.0 228.6h1.8v1.8h-1.8zM148.7 232.1h1.8v1.8h-1.8zM149.2 204.5h1.8v1.8h-1.8zM149.6 216.5h1.8v1.8h-1.8zM149.4 225.5h1.8v1.8h-1.8zM149.7 229.2h1.8v1.8h-1.8zM149.4 233.3h1.8v1.8h-1.8zM150.4 216.5h1.8v1.8h-1.8zM150.7 224.0h1.8v1.8h-1.8zM150.2 230.6h1.8v1.8h-1.8zM151.9 206.8h1.8v1.8h-1.8zM151.9 218.6h1.8v1.8h-1.8zM151.5 226.4h1.8v1.8h-1.8zM151.5 232.1h1.8v1.8h-1.8zM151.9 234.7h1.8v1.8h-1.8zM152.8 223.8h1.8v1.8h-1.8zM152.7 227.4h1.8v1.8h-1.8zM153.0 228.5h1.8v1.8h-1.8zM152.2 230.6h1.8v1.8h-1.8zM153.4 215.4h1.8v1.8h-1.8zM153.3 226.7h1.8v1.8h-1.8zM153.9 229.6h1.8v1.8h-1.8zM154.8 188.3h1.8v1.8h-1.8zM154.7 217.1h1.8v1.8h-1.8zM154.4 226.0h1.8v1.8h-1.8zM155.1 233.4h1.8v1.8h-1.8zM155.6 217.2h1.8v1.8h-1.8zM155.6 229.0h1.8v1.8h-1.8zM156.0 231.4h1.8v1.8h-1.8zM156.7 197.7h1.8v1.8h-1.8zM156.6 216.1h1.8v1.8h-1.8zM156.4 227.4h1.8v1.8h-1.8zM157.0 232.5h1.8v1.8h-1.8zM157.2 210.6h1.8v1.8h-1.8zM157.2 224.9h1.8v1.8h-1.8zM157.3 228.7h1.8v1.8h-1.8zM157.4 232.6h1.8v1.8h-1.8zM159.1 201.1h1.8v1.8h-1.8zM158.4 216.2h1.8v1.8h-1.8zM158.9 223.3h1.8v1.8h-1.8zM158.3 230.6h1.8v1.8h-1.8zM158.4 234.8h1.8v1.8h-1.8zM159.9 217.7h1.8v1.8h-1.8zM159.6 223.1h1.8v1.8h-1.8zM159.3 227.5h1.8v1.8h-1.8zM159.2 230.9h1.8v1.8h-1.8zM160.0 234.2h1.8v1.8h-1.8zM160.2 218.2h1.8v1.8h-1.8zM160.2 225.9h1.8v1.8h-1.8zM160.1 233.5h1.8v1.8h-1.8zM161.2 215.6h1.8v1.8h-1.8zM161.1 221.4h1.8v1.8h-1.8zM161.2 229.0h1.8v1.8h-1.8zM161.5 234.4h1.8v1.8h-1.8zM162.5 215.7h1.8v1.8h-1.8zM162.4 221.6h1.8v1.8h-1.8zM162.8 227.7h1.8v1.8h-1.8zM162.9 232.5h1.8v1.8h-1.8zM163.2 213.5h1.8v1.8h-1.8zM163.7 223.2h1.8v1.8h-1.8zM163.4 226.9h1.8v1.8h-1.8zM163.4 231.0h1.8v1.8h-1.8zM163.4 232.7h1.8v1.8h-1.8zM164.9 216.8h1.8v1.8h-1.8zM165.0 222.4h1.8v1.8h-1.8zM164.8 225.2h1.8v1.8h-1.8zM164.3 231.9h1.8v1.8h-1.8zM165.5 195.4h1.8v1.8h-1.8zM165.9 214.7h1.8v1.8h-1.8zM165.2 219.8h1.8v1.8h-1.8zM165.3 224.6h1.8v1.8h-1.8zM166.1 231.1h1.8v1.8h-1.8zM165.8 233.8h1.8v1.8h-1.8zM166.1 216.8h1.8v1.8h-1.8zM166.6 224.6h1.8v1.8h-1.8zM167.0 227.9h1.8v1.8h-1.8zM166.8 230.7h1.8v1.8h-1.8zM167.5 222.0h1.8v1.8h-1.8zM167.4 227.8h1.8v1.8h-1.8zM167.8 230.1h1.8v1.8h-1.8zM167.7 233.0h1.8v1.8h-1.8zM168.4 207.6h1.8v1.8h-1.8zM169.1 220.8h1.8v1.8h-1.8zM168.2 225.3h1.8v1.8h-1.8zM168.5 229.1h1.8v1.8h-1.8zM168.4 231.6h1.8v1.8h-1.8zM169.8 201.4h1.8v1.8h-1.8zM170.0 218.5h1.8v1.8h-1.8zM169.2 223.1h1.8v1.8h-1.8zM169.5 228.9h1.8v1.8h-1.8zM169.6 233.5h1.8v1.8h-1.8zM170.5 212.4h1.8v1.8h-1.8zM170.9 220.5h1.8v1.8h-1.8zM170.6 223.7h1.8v1.8h-1.8zM170.3 228.6h1.8v1.8h-1.8zM171.0 233.2h1.8v1.8h-1.8zM199.3 225.3h1.8v1.8h-1.8zM199.7 230.2h1.8v1.8h-1.8zM198.8 233.3h1.8v1.8h-1.8zM200.6 219.2h1.8v1.8h-1.8zM200.7 223.8h1.8v1.8h-1.8zM200.4 226.6h1.8v1.8h-1.8zM199.9 229.7h1.8v1.8h-1.8zM200.1 233.3h1.8v1.8h-1.8zM201.5 217.5h1.8v1.8h-1.8zM201.8 222.7h1.8v1.8h-1.8zM201.2 231.3h1.8v1.8h-1.8zM200.8 235.1h1.8v1.8h-1.8zM202.8 218.6h1.8v1.8h-1.8zM202.2 228.3h1.8v1.8h-1.8zM202.1 233.4h1.8v1.8h-1.8zM203.2 225.4h1.8v1.8h-1.8zM203.8 230.0h1.8v1.8h-1.8zM203.6 233.1h1.8v1.8h-1.8zM203.9 217.9h1.8v1.8h-1.8zM204.3 224.1h1.8v1.8h-1.8zM204.0 230.8h1.8v1.8h-1.8zM205.7 215.4h1.8v1.8h-1.8zM205.4 228.5h1.8v1.8h-1.8zM205.5 232.9h1.8v1.8h-1.8zM206.1 217.3h1.8v1.8h-1.8zM205.9 225.5h1.8v1.8h-1.8zM206.8 228.3h1.8v1.8h-1.8zM206.0 235.1h1.8v1.8h-1.8zM207.0 218.8h1.8v1.8h-1.8zM207.6 226.1h1.8v1.8h-1.8zM207.0 233.2h1.8v1.8h-1.8zM207.8 221.7h1.8v1.8h-1.8zM208.4 226.8h1.8v1.8h-1.8zM208.1 234.9h1.8v1.8h-1.8zM209.1 219.6h1.8v1.8h-1.8zM209.0 226.5h1.8v1.8h-1.8zM209.8 232.5h1.8v1.8h-1.8zM209.8 207.3h1.8v1.8h-1.8zM209.8 222.9h1.8v1.8h-1.8zM210.8 234.9h1.8v1.8h-1.8zM211.0 219.2h1.8v1.8h-1.8zM211.2 228.1h1.8v1.8h-1.8zM211.6 233.4h1.8v1.8h-1.8zM211.8 216.5h1.8v1.8h-1.8zM212.4 225.5h1.8v1.8h-1.8zM212.0 232.9h1.8v1.8h-1.8zM213.0 221.2h1.8v1.8h-1.8zM213.3 233.6h1.8v1.8h-1.8zM214.7 218.6h1.8v1.8h-1.8zM214.1 227.5h1.8v1.8h-1.8zM213.9 232.2h1.8v1.8h-1.8zM215.7 199.0h1.8v1.8h-1.8zM215.5 222.9h1.8v1.8h-1.8zM215.6 226.7h1.8v1.8h-1.8zM215.7 231.5h1.8v1.8h-1.8zM215.9 205.3h1.8v1.8h-1.8zM216.0 231.6h1.8v1.8h-1.8zM215.8 233.4h1.8v1.8h-1.8zM217.5 217.2h1.8v1.8h-1.8zM217.8 229.2h1.8v1.8h-1.8zM218.6 204.1h1.8v1.8h-1.8zM218.2 221.0h1.8v1.8h-1.8zM218.4 233.7h1.8v1.8h-1.8zM219.2 214.5h1.8v1.8h-1.8zM219.5 229.4h1.8v1.8h-1.8zM219.9 204.2h1.8v1.8h-1.8zM219.9 229.7h1.8v1.8h-1.8zM221.1 210.5h1.8v1.8h-1.8zM221.5 227.2h1.8v1.8h-1.8zM222.7 213.7h1.8v1.8h-1.8zM222.2 232.8h1.8v1.8h-1.8zM223.1 229.9h1.8v1.8h-1.8zM223.9 206.8h1.8v1.8h-1.8zM224.6 234.1h1.8v1.8h-1.8zM224.9 222.0h1.8v1.8h-1.8zM224.8 228.1h1.8v1.8h-1.8zM226.6 194.6h1.8v1.8h-1.8zM226.8 222.5h1.8v1.8h-1.8zM225.9 234.7h1.8v1.8h-1.8zM227.3 222.4h1.8v1.8h-1.8zM227.2 232.7h1.8v1.8h-1.8zM228.8 219.0h1.8v1.8h-1.8zM229.1 205.1h1.8v1.8h-1.8zM228.9 224.4h1.8v1.8h-1.8zM230.8 200.0h1.8v1.8h-1.8zM230.1 230.4h1.8v1.8h-1.8zM231.5 227.1h1.8v1.8h-1.8zM232.5 222.0h1.8v1.8h-1.8zM233.7 217.4h1.8v1.8h-1.8zM234.2 221.2h1.8v1.8h-1.8zM235.2 210.3h1.8v1.8h-1.8zM234.8 230.8h1.8v1.8h-1.8zM236.1 234.4h1.8v1.8h-1.8zM236.8 233.0h1.8v1.8h-1.8zM238.7 226.5h1.8v1.8h-1.8zM238.9 225.8h1.8v1.8h-1.8zM240.5 232.3h1.8v1.8h-1.8zM240.9 231.7h1.8v1.8h-1.8zM242.6 227.1h1.8v1.8h-1.8zM243.8 233.0h1.8v1.8h-1.8zM244.9 195.1h1.8v1.8h-1.8zM247.1 215.8h1.8v1.8h-1.8zM249.4 226.7h1.8v1.8h-1.8zM251.2 225.8h1.8v1.8h-1.8zM254.1 231.3h1.8v1.8h-1.8zM256.9 226.2h1.8v1.8h-1.8zM259.8 233.6h1.8v1.8h-1.8zM264.1 227.5h1.8v1.8h-1.8zM269.5 233.8h1.8v1.8h-1.8zM274.0 232.4h1.8v1.8h-1.8zM300.8 226.2h1.8v1.8h-1.8z" fill="#ea1c24" fill-opacity="0.55"/><rect x="122" y="235.8" width="50.4" height="1.5" fill="#2a8a3c"/><rect x="199.7" y="235.8" width="38.5" height="1.5" fill="#2a8a3c"/><rect x="112" y="236" width="10" height="1.1" fill="#2a8a3c" fill-opacity="0.5"/><rect x="238.2" y="236" width="8" height="1.1" fill="#2a8a3c" fill-opacity="0.5"/><rect x="172.6" y="235.8" width="27.1" height="2.3" fill="#707070"/><polygon points="172.6,222.0 173,222.8 175.4,226.3 177.6,229 179.8,231.1 182,233.8 184.1,235.5 185,236 187,236 187.6,235.5 189.4,234.6 191.1,232.9 192.9,230.7 194.7,228.5 196.8,225.4 199,221.5 199.7,220.8 199.7,236 172.6,236" fill="#4a69b4"/>
<line x1="172.38" y1="22.5" x2="172.38" y2="247.0" stroke="#555" stroke-width="0.9" stroke-dasharray="2.9,1.1"/><line x1="199.82" y1="22.5" x2="199.82" y2="247.0" stroke="#555" stroke-width="0.9" stroke-dasharray="2.9,1.1"/><line x1="35.4" y1="236.4" x2="337.0" y2="236.4" stroke="#555" stroke-width="0.9" stroke-dasharray="2.9,1.1"/><line x1="35.4" y1="22.5" x2="35.4" y2="247.75" stroke="#2a2a2a" stroke-width="1.3"/><line x1="34.75" y1="247.25" x2="337.0" y2="247.25" stroke="#2a2a2a" stroke-width="1.5"/><line x1="32.6" y1="236.40" x2="35.4" y2="236.40" stroke="#333" stroke-width="1"/><text x="30.4" y="239.40" text-anchor="end" font-size="8.4" fill="#4d4d4d">0</text><line x1="32.6" y1="170.43" x2="35.4" y2="170.43" stroke="#333" stroke-width="1"/><text x="30.4" y="173.43" text-anchor="end" font-size="8.4" fill="#4d4d4d">100</text><line x1="32.6" y1="104.46" x2="35.4" y2="104.46" stroke="#333" stroke-width="1"/><text x="30.4" y="107.46" text-anchor="end" font-size="8.4" fill="#4d4d4d">200</text><line x1="32.6" y1="38.49" x2="35.4" y2="38.49" stroke="#333" stroke-width="1"/><text x="30.4" y="41.49" text-anchor="end" font-size="8.4" fill="#4d4d4d">300</text><line x1="48.90" y1="247.0" x2="48.90" y2="249.8" stroke="#333" stroke-width="1"/><text x="48.90" y="258.6" text-anchor="middle" font-size="8.4" fill="#4d4d4d">−10</text><line x1="117.50" y1="247.0" x2="117.50" y2="249.8" stroke="#333" stroke-width="1"/><text x="117.50" y="258.6" text-anchor="middle" font-size="8.4" fill="#4d4d4d">−5</text><line x1="186.10" y1="247.0" x2="186.10" y2="249.8" stroke="#333" stroke-width="1"/><text x="186.10" y="258.6" text-anchor="middle" font-size="8.4" fill="#4d4d4d">0</text><line x1="254.70" y1="247.0" x2="254.70" y2="249.8" stroke="#333" stroke-width="1"/><text x="254.70" y="258.6" text-anchor="middle" font-size="8.4" fill="#4d4d4d">5</text><line x1="323.30" y1="247.0" x2="323.30" y2="249.8" stroke="#333" stroke-width="1"/><text x="323.30" y="258.6" text-anchor="middle" font-size="8.4" fill="#4d4d4d">10</text><g fill="#111"><text transform="translate(157.4,270) scale(0.9,1)" font-size="9.7">Log</text><text x="171.4" y="271.2" font-size="5.6">2</text><text transform="translate(177.0,270) scale(0.927,1)" font-size="9.7">fold change</text></g><g transform="translate(9.3,151.6) rotate(-90)" fill="#111"><rect x="0.1" y="-2.8" width="3.1" height="1.0" fill="#222"/><text transform="translate(6.9,0) scale(1.1,1)" font-size="8.45">Log</text><text transform="translate(22.5,0.4) scale(1.2,1)" font-size="4.8">10</text><text transform="translate(30.0,0) scale(1.1,1)" font-size="8.45" font-style="italic">P</text></g><text transform="translate(1.70,19.50) scale(0.88,1)" font-size="26.0" font-weight="bold" text-anchor="start" fill="#1a1a1a" stroke="#1a1a1a" stroke-width="0.6">a</text><text transform="translate(37.20,16.90) scale(1.05,1)" font-size="12.2" font-weight="bold" text-anchor="start" fill="#1a1a1a">Mut vs Ctrl</text><rect x="248.2" y="55.2" width="2" height="2" fill="#ea1c24" fill-opacity="0.6"/><text transform="translate(227.6,59.0) scale(0.92,1)" font-size="7.2" font-weight="bold" text-anchor="start" fill="#1a1a1a">EPS8</text><polygon points="247.30,58.12 251.10,58.12 249.20,54.51" fill="none" stroke="#222" stroke-width="0.75"/><text transform="translate(154.7,188.8) scale(0.92,1)" font-size="7.2" font-weight="bold" text-anchor="start" fill="#1a1a1a">CKB</text><polygon points="153.70,194.12 157.50,194.12 155.60,190.51" fill="none" stroke="#222" stroke-width="0.75"/><text transform="translate(98.0,204.9) scale(0.92,1)" font-size="7.2" font-weight="bold" text-anchor="start" fill="#1a1a1a">EPHA4</text><polygon points="121.60,204.48 125.40,204.48 123.50,208.09" fill="none" stroke="#222" stroke-width="0.75"/><text transform="translate(129.9,224.9) scale(0.86,1)" font-size="7.2" font-weight="bold" text-anchor="start" fill="#1a1a1a">NAT8L</text><polygon points="144.30,225.68 148.10,225.68 146.20,229.29" fill="none" stroke="#222" stroke-width="0.75"/><polygon points="148.70,233.72 152.50,233.72 150.60,230.11" fill="none" stroke="#222" stroke-width="0.75"/><text transform="translate(144.4,239.8) scale(0.92,1)" font-size="7.2" font-weight="bold" text-anchor="start" fill="#1a1a1a">CKMT1B</text><text transform="translate(204.5,226.2) scale(0.96,1)" font-size="7.2" font-weight="bold" text-anchor="start" fill="#1a1a1a">SMN2</text><polygon points="205.28,229.30 208.89,231.20 205.28,233.10" fill="none" stroke="#222" stroke-width="0.75"/><rect x="173.1" y="238.1" width="26.2" height="7.0" fill="#fff"/><text transform="translate(175.6,243.6) scale(0.92,1)" font-size="7.2" font-weight="bold" text-anchor="start" fill="#1a1a1a">ZNF24</text><polygon points="187.20,235.72 190.00,235.72 188.60,233.06" fill="none" stroke="#222" stroke-width="0.75"/><text x="354.80" y="19.20" font-size="24.6" font-weight="bold" text-anchor="start" fill="#1a1a1a" stroke="#1a1a1a" stroke-width="0.3">b</text><line x1="416.7" y1="55.8" x2="416.7" y2="117.5" stroke="#000" stroke-width="1.4"/><line x1="416.7" y1="129.8" x2="416.7" y2="193.0" stroke="#000" stroke-width="1.4"/><line x1="413" y1="122.2" x2="420.7" y2="114.7" stroke="#000" stroke-width="1.3"/><line x1="413" y1="133.8" x2="420.7" y2="126.5" stroke="#000" stroke-width="1.3"/><line x1="409.5" y1="111.30" x2="416.7" y2="111.30" stroke="#000" stroke-width="1.3"/><text x="406.90" y="115.30" font-size="10.3" font-weight="bold" text-anchor="end" fill="#000">20</text><line x1="409.5" y1="97.60" x2="416.7" y2="97.60" stroke="#000" stroke-width="1.3"/><text x="406.90" y="101.60" font-size="10.3" font-weight="bold" text-anchor="end" fill="#000">30</text><line x1="409.5" y1="83.90" x2="416.7" y2="83.90" stroke="#000" stroke-width="1.3"/><text x="406.90" y="87.90" font-size="10.3" font-weight="bold" text-anchor="end" fill="#000">40</text><line x1="409.5" y1="70.20" x2="416.7" y2="70.20" stroke="#000" stroke-width="1.3"/><text x="406.90" y="74.20" font-size="10.3" font-weight="bold" text-anchor="end" fill="#000">50</text><line x1="409.5" y1="56.50" x2="416.7" y2="56.50" stroke="#000" stroke-width="1.3"/><text x="406.90" y="60.50" font-size="10.3" font-weight="bold" text-anchor="end" fill="#000">60</text><line x1="409.5" y1="192.30" x2="416.7" y2="192.30" stroke="#000" stroke-width="1.3"/><text x="408.40" y="196.00" font-size="10.3" font-weight="bold" text-anchor="end" fill="#000">0</text><line x1="409.5" y1="171.67" x2="416.7" y2="171.67" stroke="#000" stroke-width="1.3"/><text x="408.40" y="175.37" font-size="10.3" font-weight="bold" text-anchor="end" fill="#000">1</text><line x1="409.5" y1="151.04" x2="416.7" y2="151.04" stroke="#000" stroke-width="1.3"/><text x="408.40" y="154.74" font-size="10.3" font-weight="bold" text-anchor="end" fill="#000">2</text><text x="408.60" y="133.80" font-size="10.3" font-weight="bold" text-anchor="end" fill="#000">3</text><line x1="410.7" y1="192.3" x2="620.8" y2="192.3" stroke="#000" stroke-width="1.4"/><line x1="431.00" y1="192.3" x2="431.00" y2="197.8" stroke="#000" stroke-width="1.3"/><path d="M423.05,192.3 V172.52 H429.95 V192.3" fill="none" stroke="#000" stroke-width="1.7"/><rect x="422.20" y="170.07" width="8.60" height="3.6" rx="0.8" fill="#000"/><path d="M432.05,192.3 V184.49 H439.95 V192.3" fill="none" stroke="#e6176c" stroke-width="1.7"/><line x1="436.00" y1="182.81" x2="436.00" y2="183.64" stroke="#e6176c" stroke-width="0.9"/><line x1="433.60" y1="182.81" x2="438.40" y2="182.81" stroke="#e6176c" stroke-width="0.9"/><circle cx="433.40" cy="182.81" r="1.75" fill="#e6176c"/><circle cx="436.60" cy="184.46" r="1.75" fill="#e6176c"/><circle cx="439.00" cy="184.87" r="1.75" fill="#e6176c"/><line x1="426.05" y1="52.6" x2="436.65" y2="52.6" stroke="#000" stroke-width="1.8"/><text x="431.35" y="52.9" text-anchor="middle" font-size="18" font-weight="bold" fill="#000">**</text><text transform="translate(433.20,206.9) rotate(-45)" text-anchor="end" font-size="10.1" font-weight="bold" fill="#000">CKB</text><line x1="460.20" y1="192.3" x2="460.20" y2="197.8" stroke="#000" stroke-width="1.3"/><path d="M452.25,192.3 V172.52 H459.15 V192.3" fill="none" stroke="#000" stroke-width="1.7"/><rect x="451.40" y="170.07" width="8.60" height="3.6" rx="0.8" fill="#000"/><path d="M461.25,192.3 V188.61 H469.15 V192.3" fill="none" stroke="#e6176c" stroke-width="1.7"/><line x1="465.20" y1="187.14" x2="465.20" y2="187.76" stroke="#e6176c" stroke-width="0.9"/><line x1="462.80" y1="187.14" x2="467.60" y2="187.14" stroke="#e6176c" stroke-width="0.9"/><circle cx="463.00" cy="188.38" r="1.75" fill="#e6176c"/><circle cx="465.60" cy="186.94" r="1.75" fill="#e6176c"/><circle cx="468.00" cy="188.17" r="1.75" fill="#e6176c"/><line x1="455.25" y1="52.6" x2="465.85" y2="52.6" stroke="#000" stroke-width="1.8"/><text x="460.55" y="52.9" text-anchor="middle" font-size="18" font-weight="bold" fill="#000">***</text><text transform="translate(462.40,206.9) rotate(-45)" text-anchor="end" font-size="10.1" font-weight="bold" fill="#000">CKMT1B</text><line x1="489.40" y1="192.3" x2="489.40" y2="197.8" stroke="#000" stroke-width="1.3"/><path d="M481.45,192.3 V172.52 H488.35 V192.3" fill="none" stroke="#000" stroke-width="1.7"/><rect x="480.60" y="170.07" width="8.60" height="3.6" rx="0.8" fill="#000"/><path d="M490.45,192.3 V138.48 H498.35 V192.3" fill="none" stroke="#e6176c" stroke-width="1.7"/><line x1="494.40" y1="136.19" x2="494.40" y2="137.63" stroke="#e6176c" stroke-width="0.9"/><line x1="492.00" y1="136.19" x2="496.80" y2="136.19" stroke="#e6176c" stroke-width="0.9"/><circle cx="491.80" cy="134.95" r="1.75" fill="#e6176c"/><circle cx="496.60" cy="137.84" r="1.75" fill="#e6176c"/><circle cx="494.60" cy="140.31" r="1.75" fill="#e6176c"/><line x1="484.45" y1="52.6" x2="495.05" y2="52.6" stroke="#000" stroke-width="1.8"/><text x="489.75" y="52.9" text-anchor="middle" font-size="18" font-weight="bold" fill="#000">***</text><text transform="translate(491.60,206.9) rotate(-45)" text-anchor="end" font-size="10.1" font-weight="bold" fill="#000">SMN</text><line x1="518.60" y1="192.3" x2="518.60" y2="197.8" stroke="#000" stroke-width="1.3"/><path d="M510.65,192.3 V172.52 H517.55 V192.3" fill="none" stroke="#000" stroke-width="1.7"/><rect x="509.80" y="170.07" width="8.60" height="3.6" rx="0.8" fill="#000"/><path d="M519.65,117.8 V88.05 H527.55 V117.8" fill="none" stroke="#e6176c" stroke-width="1.7"/><line x1="519.65" y1="129.9" x2="519.65" y2="192.3" stroke="#e6176c" stroke-width="1.7"/><line x1="527.55" y1="129.9" x2="527.55" y2="192.3" stroke="#e6176c" stroke-width="1.7"/><line x1="523.60" y1="74.5" x2="523.60" y2="99" stroke="#e6176c" stroke-width="0.9"/><line x1="521.00" y1="74.5" x2="526.20" y2="74.5" stroke="#e6176c" stroke-width="0.9"/><line x1="521.00" y1="99" x2="526.20" y2="99" stroke="#e6176c" stroke-width="0.9"/><circle cx="523.60" cy="68.7" r="1.7" fill="#e6176c"/><circle cx="523.60" cy="81.4" r="1.7" fill="#e6176c"/><circle cx="523.60" cy="111.4" r="1.7" fill="#e6176c"/><line x1="513.65" y1="52.6" x2="524.25" y2="52.6" stroke="#000" stroke-width="1.8"/><text x="518.95" y="52.9" text-anchor="middle" font-size="18" font-weight="bold" fill="#000">*</text><text transform="translate(520.80,206.9) rotate(-45)" text-anchor="end" font-size="10.1" font-weight="bold" fill="#000">EPS8</text><line x1="547.80" y1="192.3" x2="547.80" y2="197.8" stroke="#000" stroke-width="1.3"/><path d="M539.85,192.3 V172.52 H546.75 V192.3" fill="none" stroke="#000" stroke-width="1.7"/><rect x="539.00" y="170.07" width="8.60" height="3.6" rx="0.8" fill="#000"/><path d="M548.85,192.3 V167.78 H556.75 V192.3" fill="none" stroke="#e6176c" stroke-width="1.7"/><line x1="552.80" y1="164.24" x2="552.80" y2="166.93" stroke="#e6176c" stroke-width="0.9"/><line x1="550.40" y1="164.24" x2="555.20" y2="164.24" stroke="#e6176c" stroke-width="0.9"/><circle cx="552.80" cy="160.94" r="1.75" fill="#e6176c"/><circle cx="552.80" cy="167.96" r="1.75" fill="#e6176c"/><circle cx="552.80" cy="171.05" r="1.75" fill="#e6176c"/><line x1="542.85" y1="52.6" x2="553.45" y2="52.6" stroke="#000" stroke-width="1.8"/><text x="548.15" y="46.2" text-anchor="middle" font-size="12.4" fill="#111">ns</text><text transform="translate(550.00,206.9) rotate(-45)" text-anchor="end" font-size="10.1" font-weight="bold" fill="#000">ZNF24</text><line x1="577.00" y1="192.3" x2="577.00" y2="197.8" stroke="#000" stroke-width="1.3"/><path d="M569.05,192.3 V172.52 H575.95 V192.3" fill="none" stroke="#000" stroke-width="1.7"/><rect x="568.20" y="170.07" width="8.60" height="3.6" rx="0.8" fill="#000"/><path d="M578.05,192.3 V191.71 H585.95 V192.3" fill="none" stroke="#e6176c" stroke-width="1.7"/><line x1="582.00" y1="189.00" x2="582.00" y2="190.86" stroke="#e6176c" stroke-width="0.9"/><line x1="579.60" y1="189.00" x2="584.40" y2="189.00" stroke="#e6176c" stroke-width="0.9"/><circle cx="582.00" cy="186.73" r="1.75" fill="#e6176c"/><circle cx="579.00" cy="191.68" r="1.75" fill="#e6176c"/><circle cx="585.00" cy="191.68" r="1.75" fill="#e6176c"/><line x1="572.05" y1="52.6" x2="582.65" y2="52.6" stroke="#000" stroke-width="1.8"/><text x="577.35" y="52.9" text-anchor="middle" font-size="18" font-weight="bold" fill="#000">**</text><text transform="translate(579.20,206.9) rotate(-45)" text-anchor="end" font-size="10.1" font-weight="bold" fill="#000">EPHA4</text><line x1="606.20" y1="192.3" x2="606.20" y2="197.8" stroke="#000" stroke-width="1.3"/><path d="M598.25,192.3 V172.52 H605.15 V192.3" fill="none" stroke="#000" stroke-width="1.7"/><rect x="597.40" y="170.07" width="8.60" height="3.6" rx="0.8" fill="#000"/><path d="M607.25,192.3 V187.58 H615.15 V192.3" fill="none" stroke="#e6176c" stroke-width="1.7"/><line x1="611.20" y1="185.08" x2="611.20" y2="186.73" stroke="#e6176c" stroke-width="0.9"/><line x1="608.80" y1="185.08" x2="613.60" y2="185.08" stroke="#e6176c" stroke-width="0.9"/><circle cx="611.20" cy="183.02" r="1.75" fill="#e6176c"/><circle cx="608.40" cy="189.21" r="1.75" fill="#e6176c"/><circle cx="614.00" cy="188.38" r="1.75" fill="#e6176c"/><line x1="601.25" y1="52.6" x2="611.85" y2="52.6" stroke="#000" stroke-width="1.8"/><text x="606.55" y="52.9" text-anchor="middle" font-size="18" font-weight="bold" fill="#000">**</text><text transform="translate(608.40,206.9) rotate(-45)" text-anchor="end" font-size="10.1" font-weight="bold" fill="#000">NAT8L</text><text transform="translate(390.5,123.5) rotate(-90) scale(1,1.1)" text-anchor="middle" font-size="11.3" font-weight="bold" fill="#000">Relative mRNA Level</text><circle cx="636.6" cy="65.7" r="2.3" fill="#000"/><circle cx="636.6" cy="84.7" r="2.3" fill="#e6176c"/><text transform="translate(652.40,69.80) scale(0.92,1)" font-size="11.6" text-anchor="start" fill="#111">Ctrl</text><text transform="translate(652.40,88.90) scale(0.97,1)" font-size="11.6" text-anchor="start" fill="#111">Mut</text><text x="353.60" y="256.80" font-size="26" font-weight="bold" text-anchor="start" fill="#1a1a1a" stroke="#1a1a1a" stroke-width="0.3">c</text><text x="354.8" y="276.0" font-size="8.6" font-weight="bold" fill="#111">Molecular and Cellular Functions</text><rect x="353.7" y="282.9" width="308.30" height="12.80" fill="#ec7d4d"/><text transform="translate(350.90,291.70) scale(0.93,1)" font-size="9.3" font-weight="bold" text-anchor="end" fill="#111">Cellular Movement</text><rect x="353.7" y="297.2" width="307.30" height="12.60" fill="#312a87"/><text transform="translate(350.90,305.90) scale(0.93,1)" font-size="9.3" font-weight="bold" text-anchor="end" fill="#111">Cellular Assembly and Orgnization</text><rect x="353.7" y="311.6" width="307.30" height="12.10" fill="#312a87"/><text transform="translate(350.90,320.05) scale(0.93,1)" font-size="9.3" font-weight="bold" text-anchor="end" fill="#111">Cellular Function and Maintenance</text><rect x="353.7" y="325.7" width="287.30" height="12.40" fill="#6b2d91"/><text transform="translate(350.90,334.30) scale(0.93,1)" font-size="9.3" font-weight="bold" text-anchor="end" fill="#111">Cell-To-Cell Signaling and Interaction</text><rect x="353.7" y="340.2" width="262.20" height="11.80" fill="#8a2e90"/><text transform="translate(350.90,348.50) scale(0.93,1)" font-size="9.3" font-weight="bold" text-anchor="end" fill="#111">Cell Morphology</text><line x1="353.7" y1="281.2" x2="353.7" y2="355" stroke="#000" stroke-width="1.2"/><line x1="353.09999999999997" y1="354.3" x2="662.5" y2="354.3" stroke="#000" stroke-width="1.3"/><line x1="354.00" y1="354.3" x2="354.00" y2="356.6" stroke="#000" stroke-width="0.9"/><text x="354.00" y="363.4" text-anchor="middle" font-size="7.2" fill="#222">0</text><line x1="425.75" y1="354.3" x2="425.75" y2="356.6" stroke="#000" stroke-width="0.9"/><text x="425.75" y="363.4" text-anchor="middle" font-size="7.2" fill="#222">5</text><line x1="497.50" y1="354.3" x2="497.50" y2="356.6" stroke="#000" stroke-width="0.9"/><text x="497.50" y="363.4" text-anchor="middle" font-size="7.2" fill="#222">10</text><line x1="569.25" y1="354.3" x2="569.25" y2="356.6" stroke="#000" stroke-width="0.9"/><text x="569.25" y="363.4" text-anchor="middle" font-size="7.2" fill="#222">15</text><line x1="641.00" y1="354.3" x2="641.00" y2="356.6" stroke="#000" stroke-width="0.9"/><text x="641.00" y="363.4" text-anchor="middle" font-size="7.2" fill="#222">20</text><text x="485.8" y="372.6" font-size="8.4" fill="#111">-log<tspan font-size="5" dy="1.6">10</tspan><tspan dy="-1.6"> P-value</tspan></text><defs><linearGradient id="plasma" x1="0" y1="1" x2="0" y2="0"><stop offset="0" stop-color="#2b2a89"/><stop offset="0.25" stop-color="#6a2a96"/><stop offset="0.5" stop-color="#b4308e"/><stop offset="0.68" stop-color="#e45a6a"/><stop offset="0.85" stop-color="#f79a3c"/><stop offset="1" stop-color="#f8e22a"/></linearGradient></defs><rect x="668.0" y="362.6" width="7.3" height="34" rx="1" fill="url(#plasma)"/><text x="668.0" y="360.2" font-size="4.2" fill="#444">Z-score</text><text x="677.3" y="364.4" font-size="3.8" fill="#555">2</text><text x="677.3" y="372.79999999999995" font-size="3.8" fill="#555">1</text><text x="677.3" y="381.0" font-size="3.8" fill="#555">0</text><text x="677.3" y="389.59999999999997" font-size="3.8" fill="#555">-1</text><text x="677.3" y="397.9" font-size="3.8" fill="#555">-2</text><text x="350.80" y="384.60" font-size="8.8" font-weight="bold" text-anchor="end" fill="#111">Genes Associated with:</text><text x="354.5" y="384.4" font-size="8.6" font-weight="bold" fill="#111">Clinincal Chemistry and Hematology</text><rect x="353.7" y="389.9" width="307.90" height="12.20" fill="#4a2d91"/><text transform="translate(350.90,398.40) scale(0.93,1)" font-size="9.3" font-weight="bold" text-anchor="end" fill="#111">Levels of Alkaline Phosphatase</text><rect x="353.7" y="404.4" width="228.90" height="12.00" fill="#2f2b85"/><text transform="translate(350.90,412.80) scale(0.93,1)" font-size="9.3" font-weight="bold" text-anchor="end" fill="#111">Levels of Creatinine</text><rect x="353.7" y="418.5" width="224.50" height="12.00" fill="#8a2a8e"/><text transform="translate(350.90,426.90) scale(0.93,1)" font-size="9.3" font-weight="bold" text-anchor="end" fill="#111">Levels of Albumin</text><rect x="353.7" y="432.6" width="173.70" height="11.90" fill="#d9596b"/><text transform="translate(350.90,440.95) scale(0.93,1)" font-size="9.3" font-weight="bold" text-anchor="end" fill="#111">Levels of LDH</text><rect x="353.7" y="446.6" width="96.90" height="12.20" fill="#c94a7e"/><text transform="translate(350.90,455.10) scale(0.93,1)" font-size="9.3" font-weight="bold" text-anchor="end" fill="#111">Levels of ALT</text><line x1="353.7" y1="388.3" x2="353.7" y2="461.5" stroke="#000" stroke-width="1.2"/><line x1="353.09999999999997" y1="460.7" x2="661.8" y2="460.7" stroke="#000" stroke-width="1.3"/><line x1="353.20" y1="460.7" x2="353.20" y2="463" stroke="#000" stroke-width="0.9"/><text x="353.20" y="469.8" text-anchor="middle" font-size="7.2" fill="#222">0</text><line x1="421.00" y1="460.7" x2="421.00" y2="463" stroke="#000" stroke-width="0.9"/><text x="421.00" y="469.8" text-anchor="middle" font-size="7.2" fill="#222">1</text><line x1="488.80" y1="460.7" x2="488.80" y2="463" stroke="#000" stroke-width="0.9"/><text x="488.80" y="469.8" text-anchor="middle" font-size="7.2" fill="#222">2</text><line x1="556.60" y1="460.7" x2="556.60" y2="463" stroke="#000" stroke-width="0.9"/><text x="556.60" y="469.8" text-anchor="middle" font-size="7.2" fill="#222">3</text><line x1="624.40" y1="460.7" x2="624.40" y2="463" stroke="#000" stroke-width="0.9"/><text x="624.40" y="469.8" text-anchor="middle" font-size="7.2" fill="#222">4</text><text x="486.0" y="478.7" font-size="8.4" fill="#111">-log<tspan font-size="5" dy="1.6">10</tspan><tspan dy="-1.6"> P-value</tspan></text>
</svg></body></html>
